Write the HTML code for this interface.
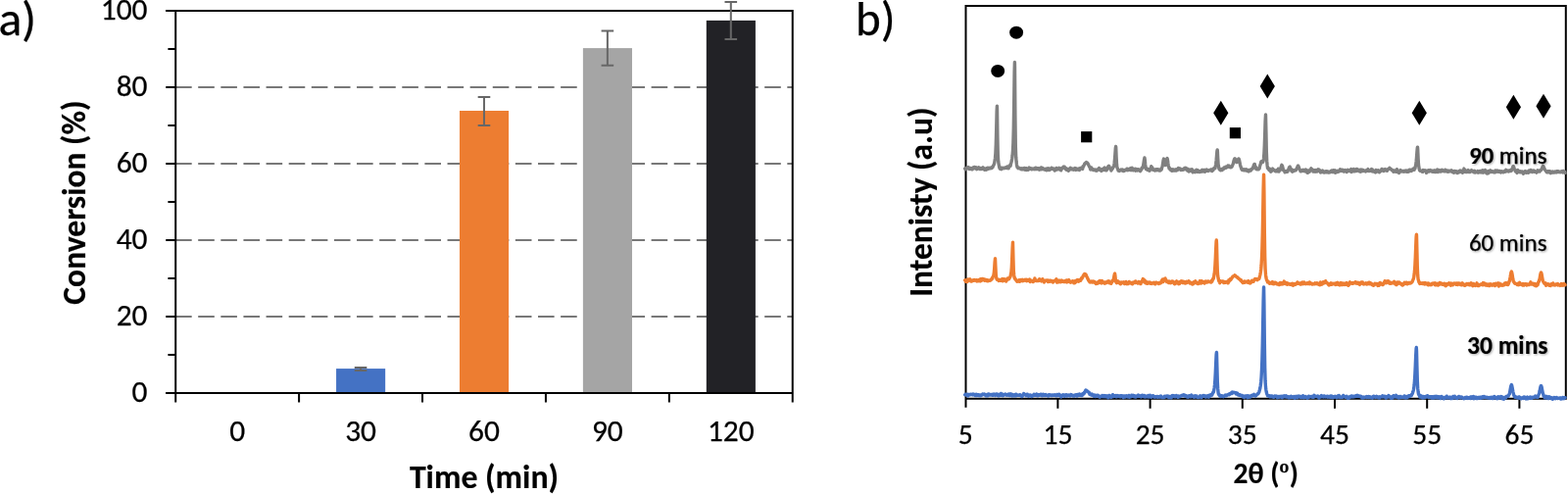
<!DOCTYPE html>
<html><head><meta charset="utf-8"><title>Figure</title>
<style>
html,body{margin:0;padding:0;background:#fff;width:1600px;height:504px;overflow:hidden}
svg{display:block}
text{font-family:Carlito,'Liberation Sans',sans-serif;fill:#000;stroke:#000;stroke-width:0.25px;font-size-adjust:0.4775390625}
.b{stroke-width:0.15px;font-size-adjust:0.48486328125}
.b{font-weight:bold}
</style></head><body>
<svg width="1600" height="504" viewBox="0 0 1600 504">
<rect width="1600" height="504" fill="#fff"/>

<line x1="179.08" y1="323.00" x2="808.75" y2="323.00" stroke="#787878" stroke-width="2.2" stroke-dasharray="16.6 6.52"/>
<line x1="179.08" y1="245.00" x2="808.75" y2="245.00" stroke="#787878" stroke-width="2.2" stroke-dasharray="16.6 6.52"/>
<line x1="179.08" y1="167.00" x2="808.75" y2="167.00" stroke="#787878" stroke-width="2.2" stroke-dasharray="16.6 6.52"/>
<line x1="179.08" y1="89.00" x2="808.75" y2="89.00" stroke="#787878" stroke-width="2.2" stroke-dasharray="16.6 6.52"/>
<rect x="343.06" y="376.10" width="50.1" height="24.90" fill="#4472C4"/>
<rect x="468.97" y="113.00" width="50.1" height="288.00" fill="#ED7D31"/>
<rect x="594.88" y="49.10" width="50.1" height="351.90" fill="#A5A5A5"/>
<rect x="720.80" y="20.90" width="50.1" height="380.10" fill="#222226"/>
<path d="M169 11.0 H809.65 M179.2 10.0 V410.6 M808.75 10.0 V410.6 M169 401.0 H809.65" stroke="#000" stroke-width="2" fill="none"/>
<path d="M169.2 323.00 H179.2 M169.2 245.00 H179.2 M169.2 167.00 H179.2 M169.2 89.00 H179.2 M171.4 362.00 H179.2 M171.4 284.00 H179.2 M171.4 206.00 H179.2 M171.4 128.00 H179.2 M171.4 50.00 H179.2 M305.11 401.0 V410.6 M431.02 401.0 V410.6 M556.93 401.0 V410.6 M682.84 401.0 V410.6" stroke="#000" stroke-width="2" fill="none"/>
<path d="M368.06 375.0 V378.0 M361.76 375.0 H374.37 M361.76 378.0 H374.37 M493.97 98.9 V128.0 M487.67 98.9 H500.27 M487.67 128.0 H500.27 M619.88 31.5 V66.8 M613.59 31.5 H626.18 M613.59 66.8 H626.18 M745.80 1.9 V40.0 M739.50 1.9 H752.10 M739.50 40.0 H752.10" stroke="#676767" stroke-width="2" fill="none"/>
<text x="150.5" y="410.10" font-size="31.4" text-anchor="end" textLength="15.92" lengthAdjust="spacingAndGlyphs">0</text>
<text x="150.5" y="332.10" font-size="31.4" text-anchor="end" textLength="31.83" lengthAdjust="spacingAndGlyphs">20</text>
<text x="150.5" y="254.10" font-size="31.4" text-anchor="end" textLength="31.83" lengthAdjust="spacingAndGlyphs">40</text>
<text x="150.5" y="176.10" font-size="31.4" text-anchor="end" textLength="31.83" lengthAdjust="spacingAndGlyphs">60</text>
<text x="150.5" y="98.10" font-size="31.4" text-anchor="end" textLength="31.83" lengthAdjust="spacingAndGlyphs">80</text>
<text x="150.5" y="20.10" font-size="31.4" text-anchor="end" textLength="47.73" lengthAdjust="spacingAndGlyphs">100</text>
<text x="242.15" y="450.3" font-size="31.4" text-anchor="middle" textLength="15.92" lengthAdjust="spacingAndGlyphs">0</text>
<text x="368.06" y="450.3" font-size="31.4" text-anchor="middle" textLength="31.83" lengthAdjust="spacingAndGlyphs">30</text>
<text x="493.97" y="450.3" font-size="31.4" text-anchor="middle" textLength="31.83" lengthAdjust="spacingAndGlyphs">60</text>
<text x="619.88" y="450.3" font-size="31.4" text-anchor="middle" textLength="31.83" lengthAdjust="spacingAndGlyphs">90</text>
<text x="745.80" y="450.3" font-size="31.4" text-anchor="middle" textLength="47.73" lengthAdjust="spacingAndGlyphs">120</text>
<text class="b" x="493.98" y="498.3" font-size="33.8" text-anchor="middle" textLength="152.17" lengthAdjust="spacingAndGlyphs">Time (min)</text>
<text class="b" transform="translate(87 206.6) rotate(-90)" x="0" y="0" font-size="33.6" text-anchor="middle" textLength="208.28" lengthAdjust="spacingAndGlyphs">Conversion (%)</text>
<text x="-1.6" y="36.4" font-size="49.5" textLength="38.73" lengthAdjust="spacingAndGlyphs">a)</text>
<path d="M985.5 406.7 H1598.8 M985.5 5.0 V415.7 M1597.8 5.0 V407.7 M984.5 6.0 H1598.8" stroke="#000" stroke-width="2" fill="none"/>
<path d="M1079.40 406.7 V416.7 M1173.60 406.7 V416.7 M1267.80 406.7 V416.7 M1362.00 406.7 V416.7 M1456.20 406.7 V416.7 M1550.40 406.7 V416.7" stroke="#000" stroke-width="2" fill="none"/>
<path d="M984.7 172.02 985.1 172.81 985.5 172.55 985.9 171.52 986.3 171.29 986.7 171.14 987.1 171.51 987.5 171.24 987.9 171.80 988.3 170.55 988.7 172.50 989.1 171.89 989.5 172.37 989.9 171.67 990.3 171.50 990.7 172.38 991.1 172.62 991.5 172.15 991.9 172.03 992.3 172.73 992.7 171.27 993.1 170.85 993.5 171.68 993.9 171.64 994.3 170.46 994.7 171.60 995.1 171.87 995.5 171.31 995.9 170.71 996.3 172.22 996.7 172.71 997.1 171.57 997.5 171.51 997.9 172.00 998.3 171.72 998.7 170.78 999.1 171.95 999.5 172.36 999.9 171.80 1000.3 171.57 1000.7 172.50 1001.1 172.22 1001.5 172.52 1001.9 171.43 1002.3 171.65 1002.7 171.36 1003.1 170.79 1003.5 172.37 1003.9 172.26 1004.3 171.76 1004.7 173.30 1005.1 172.99 1005.5 172.75 1005.9 172.87 1006.3 173.17 1006.7 171.70 1007.1 172.87 1007.5 172.62 1007.9 171.33 1008.3 172.11 1008.7 171.45 1009.1 172.11 1009.5 171.45 1009.9 171.23 1010.3 171.80 1010.7 171.39 1011.1 171.74 1011.5 171.27 1011.9 171.47 1012.3 170.59 1012.7 170.84 1013.1 170.34 1013.5 169.07 1013.9 168.52 1014.3 167.67 1014.7 166.19 1015.1 163.69 1015.5 161.19 1015.9 156.33 1016.3 147.37 1016.7 132.51 1017.1 114.67 1017.4 108.11 1017.5 110.65 1017.9 140.81 1018.3 158.37 1018.7 164.82 1019.1 167.22 1019.5 169.52 1019.9 171.23 1020.3 172.19 1020.7 170.83 1021.1 171.40 1021.5 171.99 1021.9 172.59 1022.3 172.01 1022.7 171.17 1023.1 171.78 1023.5 171.89 1023.9 171.68 1024.3 171.28 1024.7 171.53 1025.1 171.62 1025.5 171.30 1025.9 171.24 1026.3 170.69 1026.7 171.00 1027.1 171.50 1027.5 170.93 1027.9 169.99 1028.3 171.42 1028.7 170.95 1029.1 171.72 1029.5 170.13 1029.9 169.66 1030.3 168.84 1030.7 169.59 1031.1 169.19 1031.5 166.97 1031.9 165.74 1032.3 164.15 1032.7 161.71 1033.1 158.55 1033.5 153.78 1033.9 145.56 1034.3 130.50 1034.7 105.18 1035.1 74.63 1035.4 63.57 1035.5 67.81 1035.9 118.82 1036.3 149.11 1036.7 160.19 1037.1 165.08 1037.5 168.08 1037.9 170.05 1038.3 170.99 1038.7 171.02 1039.1 171.77 1039.5 171.63 1039.9 171.31 1040.3 171.49 1040.7 171.99 1041.1 171.66 1041.5 172.03 1041.9 172.55 1042.3 172.83 1042.7 172.73 1043.1 171.71 1043.5 172.71 1043.9 172.33 1044.3 172.73 1044.7 172.29 1045.1 171.48 1045.5 171.50 1045.9 173.20 1046.3 172.63 1046.7 173.18 1047.1 173.48 1047.5 171.60 1047.9 172.63 1048.3 173.26 1048.7 173.12 1049.1 173.23 1049.5 172.98 1049.9 172.59 1050.3 171.06 1050.7 171.92 1051.1 171.51 1051.5 172.31 1051.9 171.75 1052.3 172.39 1052.7 172.77 1053.1 172.30 1053.5 172.17 1053.9 172.50 1054.3 172.07 1054.7 172.38 1055.1 172.12 1055.5 172.68 1055.9 172.35 1056.3 172.55 1056.7 171.15 1057.1 172.66 1057.5 171.72 1057.9 171.49 1058.3 171.98 1058.7 171.71 1059.1 172.60 1059.5 171.71 1059.9 171.91 1060.3 171.75 1060.7 173.19 1061.1 172.12 1061.5 171.69 1061.9 172.06 1062.3 171.09 1062.7 172.73 1063.1 171.03 1063.5 172.20 1063.9 172.22 1064.3 171.58 1064.7 172.78 1065.1 172.81 1065.5 172.23 1065.9 172.50 1066.3 173.12 1066.7 172.61 1067.1 172.91 1067.5 173.06 1067.9 173.70 1068.3 171.93 1068.7 173.18 1069.1 172.48 1069.5 171.66 1069.9 172.21 1070.3 173.51 1070.7 173.18 1071.1 172.07 1071.5 173.16 1071.9 172.29 1072.3 172.57 1072.7 172.59 1073.1 171.20 1073.5 172.35 1073.9 172.06 1074.3 172.36 1074.7 172.03 1075.1 171.96 1075.5 172.51 1075.9 173.57 1076.3 174.01 1076.7 172.67 1077.1 173.48 1077.5 172.76 1077.9 171.43 1078.3 172.34 1078.7 172.92 1079.1 172.50 1079.5 172.87 1079.9 172.77 1080.3 171.99 1080.7 171.38 1081.1 172.18 1081.5 172.14 1081.9 172.56 1082.3 173.47 1082.7 173.73 1083.1 171.75 1083.5 172.16 1083.9 171.66 1084.3 171.17 1084.7 170.99 1085.1 170.19 1085.5 170.12 1085.8 170.45 1085.9 170.31 1086.3 170.28 1086.7 171.45 1087.1 172.50 1087.5 172.47 1087.9 171.89 1088.3 173.24 1088.7 172.03 1089.1 173.36 1089.5 173.50 1089.9 172.95 1090.3 174.26 1090.7 173.38 1091.1 172.28 1091.5 172.94 1091.9 172.07 1092.3 171.20 1092.7 172.13 1093.1 172.71 1093.5 172.80 1093.9 172.56 1094.3 172.82 1094.7 172.60 1095.1 172.06 1095.5 173.24 1095.9 172.38 1096.3 172.09 1096.7 172.59 1097.1 171.54 1097.5 171.79 1097.9 173.42 1098.3 172.58 1098.7 172.20 1099.1 172.99 1099.5 172.41 1099.9 172.83 1100.3 172.61 1100.7 173.06 1101.1 171.93 1101.5 173.60 1101.9 172.21 1102.3 171.48 1102.7 172.25 1103.1 171.94 1103.5 171.78 1103.9 171.04 1104.3 171.52 1104.7 172.36 1105.1 169.75 1105.5 170.02 1105.9 169.05 1106.3 168.44 1106.7 167.18 1107.1 166.74 1107.5 166.44 1107.9 165.92 1108.3 165.93 1108.5 165.57 1108.7 165.70 1109.1 166.39 1109.5 166.13 1109.9 166.57 1110.3 167.40 1110.7 168.07 1111.1 168.98 1111.5 169.83 1111.9 170.33 1112.3 171.25 1112.7 172.93 1113.1 172.95 1113.5 170.90 1113.9 172.06 1114.3 171.91 1114.7 172.78 1115.1 172.62 1115.5 173.52 1115.9 173.64 1116.3 173.64 1116.7 173.46 1117.1 172.93 1117.5 173.56 1117.9 174.07 1118.3 173.70 1118.7 173.23 1119.1 174.24 1119.5 173.52 1119.9 173.13 1120.3 172.62 1120.7 172.54 1121.1 172.79 1121.5 171.39 1121.9 173.36 1122.3 173.20 1122.7 173.09 1123.1 173.78 1123.5 173.90 1123.9 174.41 1124.3 172.61 1124.7 173.64 1125.1 173.39 1125.5 173.66 1125.9 173.67 1126.3 173.27 1126.7 171.34 1127.1 170.98 1127.5 172.73 1127.9 172.50 1128.3 173.77 1128.7 173.72 1129.1 173.75 1129.5 172.12 1129.9 172.57 1130.3 171.17 1130.7 170.17 1131.1 169.46 1131.4 169.19 1131.5 169.35 1131.9 169.69 1132.3 171.23 1132.7 172.16 1133.1 172.20 1133.5 172.49 1133.9 174.10 1134.3 172.73 1134.7 172.71 1135.1 172.13 1135.5 171.39 1135.9 170.45 1136.3 170.20 1136.7 168.88 1137.1 166.50 1137.5 162.41 1137.9 157.03 1138.3 151.29 1138.6 149.54 1138.7 150.01 1139.1 160.05 1139.5 167.29 1139.9 170.88 1140.3 171.60 1140.7 172.72 1141.1 174.11 1141.5 173.90 1141.9 174.02 1142.3 174.41 1142.7 173.80 1143.1 174.00 1143.5 173.63 1143.9 173.16 1144.3 173.55 1144.7 173.32 1145.1 173.99 1145.5 173.08 1145.9 173.25 1146.3 174.54 1146.7 173.93 1147.1 174.32 1147.5 174.26 1147.9 173.49 1148.3 173.41 1148.7 173.65 1149.1 173.62 1149.5 173.11 1149.9 172.17 1150.3 173.07 1150.7 172.28 1151.1 173.71 1151.5 172.97 1151.9 172.80 1152.3 173.32 1152.7 173.29 1153.1 172.09 1153.5 173.37 1153.9 173.62 1154.3 171.37 1154.7 172.55 1155.0 171.30 1155.1 171.25 1155.5 171.92 1155.9 171.91 1156.3 173.92 1156.7 173.89 1157.1 173.49 1157.5 173.45 1157.9 172.55 1158.3 173.26 1158.7 174.22 1159.1 172.31 1159.5 173.05 1159.9 173.69 1160.3 174.02 1160.7 173.77 1161.1 172.69 1161.5 172.78 1161.9 173.35 1162.3 172.94 1162.7 173.43 1163.1 174.41 1163.5 174.72 1163.9 173.73 1164.3 173.22 1164.7 173.21 1165.1 171.51 1165.5 171.82 1165.9 170.61 1166.3 170.81 1166.7 168.40 1167.1 165.83 1167.5 163.03 1167.9 161.00 1168.0 161.14 1168.3 163.41 1168.7 167.98 1169.1 171.56 1169.5 172.59 1169.9 171.62 1170.3 172.77 1170.7 173.16 1171.1 172.38 1171.5 172.91 1171.9 173.66 1172.3 172.65 1172.7 173.84 1173.1 174.18 1173.5 172.42 1173.9 172.78 1174.3 171.50 1174.7 169.77 1175.0 170.28 1175.1 170.01 1175.5 171.26 1175.9 171.18 1176.3 173.27 1176.7 172.68 1177.1 173.30 1177.5 172.89 1177.9 173.28 1178.3 173.98 1178.7 173.54 1179.1 173.41 1179.5 172.75 1179.9 173.83 1180.3 173.70 1180.7 172.96 1181.1 173.23 1181.5 172.71 1181.9 173.00 1182.3 173.45 1182.7 174.01 1183.1 173.83 1183.5 173.05 1183.9 174.02 1184.3 173.37 1184.7 172.81 1185.1 173.18 1185.5 171.63 1185.9 170.26 1186.3 168.63 1186.7 165.95 1187.1 163.37 1187.5 162.03 1187.5 162.19 1187.9 163.05 1188.3 165.35 1188.7 167.16 1189.1 168.56 1189.5 168.39 1189.9 166.91 1190.3 164.49 1190.7 162.14 1191.0 161.59 1191.1 161.75 1191.5 163.48 1191.9 166.44 1192.3 168.80 1192.7 170.57 1193.1 171.90 1193.5 171.58 1193.9 172.33 1194.3 172.57 1194.7 173.67 1195.1 173.55 1195.5 173.94 1195.9 174.32 1196.3 172.78 1196.7 173.25 1197.1 173.88 1197.5 172.93 1197.9 173.47 1198.3 174.06 1198.7 174.10 1199.1 174.04 1199.5 173.33 1199.9 172.92 1200.3 174.04 1200.7 173.04 1201.1 173.06 1201.5 173.53 1201.9 172.25 1202.3 171.50 1202.7 171.50 1203.0 171.84 1203.1 171.85 1203.5 172.12 1203.9 172.80 1204.3 171.98 1204.7 172.74 1205.1 173.55 1205.5 173.12 1205.9 173.26 1206.3 173.41 1206.7 173.38 1207.1 173.41 1207.5 172.33 1207.9 172.32 1208.3 172.72 1208.7 171.47 1209.0 172.02 1209.1 171.67 1209.5 171.23 1209.9 171.83 1210.3 171.60 1210.7 173.00 1211.1 172.17 1211.5 173.90 1211.9 173.75 1212.3 172.41 1212.7 174.48 1213.1 175.06 1213.5 173.73 1213.9 174.39 1214.3 173.25 1214.7 174.11 1215.1 172.90 1215.5 174.20 1215.9 173.46 1216.3 172.79 1216.7 174.35 1217.1 175.80 1217.5 174.12 1217.9 174.69 1218.3 174.78 1218.7 174.73 1219.1 175.01 1219.5 175.63 1219.9 173.88 1220.3 174.56 1220.7 174.43 1221.1 173.29 1221.5 174.99 1221.9 175.32 1222.3 173.63 1222.7 175.30 1223.1 174.58 1223.5 174.54 1223.9 175.56 1224.3 174.66 1224.7 174.56 1225.1 175.31 1225.5 174.74 1225.9 174.48 1226.3 173.79 1226.7 173.38 1227.1 175.05 1227.5 173.88 1227.9 174.50 1228.3 173.48 1228.7 174.62 1229.1 173.52 1229.5 175.30 1229.9 173.39 1230.3 173.74 1230.7 173.33 1231.1 174.31 1231.5 173.05 1231.9 174.19 1232.3 174.04 1232.7 174.55 1233.1 174.20 1233.5 173.86 1233.9 173.66 1234.3 173.41 1234.7 173.73 1235.1 173.63 1235.5 172.91 1235.9 173.65 1236.3 173.57 1236.7 174.61 1237.1 172.79 1237.5 173.32 1237.9 173.70 1238.3 171.82 1238.7 171.70 1239.1 171.61 1239.5 171.45 1239.9 171.74 1240.3 169.32 1240.7 167.24 1241.1 163.68 1241.5 158.87 1241.9 154.18 1242.2 152.93 1242.3 153.40 1242.7 161.21 1243.1 167.65 1243.5 169.54 1243.9 171.89 1244.3 172.97 1244.7 172.63 1245.1 172.66 1245.5 173.80 1245.9 172.83 1246.3 173.59 1246.7 172.50 1247.1 173.56 1247.5 172.96 1247.9 172.39 1248.3 171.84 1248.7 172.24 1249.1 170.95 1249.5 171.39 1249.9 170.95 1250.3 171.38 1250.7 170.20 1251.1 171.17 1251.5 170.35 1251.9 169.93 1252.3 170.53 1252.7 170.14 1253.0 169.46 1253.1 169.04 1253.5 169.22 1253.9 168.99 1254.3 169.57 1254.7 170.48 1255.1 170.46 1255.5 170.72 1255.9 170.87 1256.3 170.65 1256.7 170.51 1257.1 169.98 1257.5 168.86 1257.9 168.04 1258.3 167.12 1258.7 165.34 1259.1 163.72 1259.5 162.57 1259.9 161.82 1260.0 161.73 1260.3 162.07 1260.7 162.87 1261.1 164.03 1261.5 165.09 1261.9 165.61 1262.3 165.47 1262.7 164.76 1263.1 163.60 1263.5 162.48 1263.9 161.83 1264.0 161.83 1264.3 162.53 1264.7 163.96 1265.1 166.14 1265.5 168.14 1265.9 169.69 1266.3 170.53 1266.7 172.17 1267.1 172.72 1267.5 173.40 1267.9 172.76 1268.3 173.22 1268.7 173.33 1269.1 172.68 1269.5 173.83 1269.9 173.22 1270.3 173.00 1270.7 173.08 1271.1 173.89 1271.5 174.09 1271.9 172.85 1272.3 173.97 1272.7 173.78 1273.1 174.43 1273.5 174.24 1273.9 173.50 1274.3 174.94 1274.7 174.22 1275.1 173.89 1275.5 173.22 1275.9 173.44 1276.3 174.01 1276.7 173.42 1277.1 172.67 1277.5 172.26 1277.9 172.00 1278.3 171.99 1278.7 170.54 1279.1 169.48 1279.5 168.35 1279.9 167.62 1280.0 167.70 1280.3 167.61 1280.7 169.59 1281.1 169.95 1281.5 170.81 1281.9 172.56 1282.3 172.46 1282.7 172.68 1283.1 172.21 1283.5 172.16 1283.9 172.80 1284.3 172.81 1284.7 171.46 1285.1 171.85 1285.5 169.70 1285.9 168.46 1286.3 167.17 1286.7 165.45 1287.0 164.85 1287.1 164.67 1287.5 164.81 1287.9 165.28 1288.3 165.60 1288.7 165.28 1289.1 164.00 1289.5 161.45 1289.9 156.53 1290.3 148.37 1290.7 136.95 1291.1 123.59 1291.5 116.97 1291.5 117.16 1291.9 134.34 1292.3 154.34 1292.7 164.18 1293.1 168.46 1293.5 171.44 1293.9 171.96 1294.3 172.17 1294.7 172.88 1295.1 173.55 1295.5 172.04 1295.9 173.02 1296.3 172.99 1296.7 175.31 1297.1 174.95 1297.5 174.42 1297.9 173.35 1298.3 173.70 1298.7 172.04 1299.1 173.71 1299.5 173.03 1299.9 173.37 1300.3 173.60 1300.7 173.91 1301.1 174.43 1301.5 174.77 1301.9 174.29 1302.3 173.90 1302.7 174.66 1303.1 174.22 1303.5 174.74 1303.9 173.43 1304.3 172.19 1304.7 173.62 1305.1 175.09 1305.5 173.72 1305.9 173.38 1306.3 173.48 1306.7 172.65 1307.1 171.29 1307.5 169.35 1307.9 168.28 1308.0 168.45 1308.3 168.64 1308.7 169.90 1309.1 171.96 1309.5 173.65 1309.9 173.95 1310.3 174.24 1310.7 174.18 1311.1 175.78 1311.5 174.59 1311.9 174.74 1312.3 175.36 1312.7 174.39 1313.1 174.41 1313.5 174.64 1313.9 175.12 1314.3 173.61 1314.7 173.27 1315.1 172.06 1315.5 170.80 1315.9 170.85 1316.0 170.49 1316.3 170.16 1316.7 171.82 1317.1 171.99 1317.5 173.18 1317.9 174.39 1318.3 174.22 1318.7 175.14 1319.1 173.35 1319.5 174.46 1319.9 174.34 1320.3 174.58 1320.7 174.01 1321.1 173.82 1321.5 173.70 1321.9 173.27 1322.3 173.74 1322.7 172.63 1323.1 172.48 1323.5 171.25 1323.9 170.30 1324.3 169.36 1324.5 169.99 1324.7 169.21 1325.1 170.07 1325.5 171.19 1325.9 172.32 1326.3 172.90 1326.7 173.82 1327.1 174.82 1327.5 173.76 1327.9 174.70 1328.3 173.94 1328.7 174.49 1329.1 173.53 1329.5 173.20 1329.9 173.34 1330.3 174.53 1330.7 174.00 1331.1 173.95 1331.5 174.78 1331.9 173.63 1332.3 172.97 1332.7 174.06 1333.1 174.08 1333.5 175.54 1333.9 176.17 1334.3 173.91 1334.7 176.33 1335.1 175.53 1335.5 174.88 1335.9 174.32 1336.3 175.26 1336.7 173.35 1337.1 173.02 1337.5 172.80 1337.9 171.79 1338.3 172.42 1338.5 172.41 1338.7 172.89 1339.1 173.41 1339.5 173.38 1339.9 175.06 1340.3 173.78 1340.7 174.92 1341.1 173.54 1341.5 174.79 1341.9 173.88 1342.3 175.15 1342.7 174.41 1343.1 173.52 1343.5 174.20 1343.9 175.00 1344.3 174.73 1344.7 173.35 1345.1 172.69 1345.5 172.89 1345.9 173.57 1346.3 173.49 1346.7 173.72 1347.1 175.24 1347.5 175.96 1347.9 175.81 1348.3 174.72 1348.7 175.34 1349.1 174.85 1349.5 174.11 1349.9 175.54 1350.3 175.05 1350.7 174.73 1351.1 176.06 1351.5 175.35 1351.9 175.42 1352.3 175.69 1352.7 175.72 1353.1 174.66 1353.5 174.99 1353.9 175.74 1354.3 174.83 1354.7 174.97 1355.1 175.12 1355.5 176.06 1355.9 176.11 1356.3 175.70 1356.7 175.18 1357.1 175.77 1357.5 175.18 1357.9 174.46 1358.3 175.17 1358.7 174.90 1359.1 174.09 1359.5 175.64 1359.9 174.93 1360.3 175.52 1360.7 173.76 1361.1 174.75 1361.5 174.04 1361.9 174.28 1362.3 173.84 1362.7 176.41 1363.1 174.82 1363.5 175.09 1363.9 175.30 1364.3 174.80 1364.7 175.60 1365.1 174.28 1365.5 175.26 1365.9 175.01 1366.3 175.08 1366.7 174.30 1367.1 173.48 1367.5 172.67 1367.9 173.14 1368.3 174.34 1368.7 174.24 1369.1 174.32 1369.5 173.36 1369.9 173.27 1370.3 174.53 1370.7 174.87 1371.1 174.57 1371.5 175.15 1371.9 174.32 1372.3 173.63 1372.7 173.46 1373.1 174.00 1373.5 173.96 1373.9 174.06 1374.3 175.57 1374.7 174.08 1375.1 174.51 1375.5 173.25 1375.9 173.66 1376.3 174.07 1376.7 174.26 1377.1 173.98 1377.5 174.70 1377.9 174.48 1378.3 173.23 1378.7 172.43 1379.1 175.46 1379.5 174.70 1379.9 174.25 1380.3 173.20 1380.7 173.26 1381.1 174.85 1381.5 172.37 1381.9 174.10 1382.3 174.83 1382.7 174.13 1383.1 174.44 1383.5 173.55 1383.9 174.43 1384.3 172.50 1384.7 172.51 1385.1 173.49 1385.5 174.13 1385.9 173.38 1386.3 173.90 1386.7 173.35 1387.1 173.30 1387.5 175.04 1387.9 175.04 1388.3 175.18 1388.7 173.94 1389.1 172.99 1389.5 173.14 1389.9 174.13 1390.3 174.59 1390.7 174.45 1391.1 173.61 1391.5 174.37 1391.9 174.10 1392.3 174.21 1392.7 174.14 1393.1 174.17 1393.5 175.03 1393.9 174.21 1394.3 174.31 1394.7 173.62 1395.1 174.17 1395.5 173.57 1395.9 172.58 1396.3 174.23 1396.7 173.90 1397.1 174.53 1397.5 173.96 1397.9 174.18 1398.3 174.18 1398.7 173.60 1399.1 173.23 1399.5 172.44 1399.9 174.74 1400.3 172.96 1400.7 173.97 1401.1 175.10 1401.5 174.99 1401.9 175.05 1402.3 174.79 1402.7 175.13 1403.1 174.44 1403.5 175.89 1403.9 173.44 1404.3 174.44 1404.7 174.48 1405.1 173.77 1405.5 174.20 1405.9 174.84 1406.3 173.68 1406.7 173.79 1407.0 174.86 1407.1 174.86 1407.5 175.84 1407.9 175.24 1408.3 174.33 1408.7 174.23 1409.1 174.41 1409.5 173.58 1409.9 172.46 1410.3 173.40 1410.7 173.31 1411.1 173.00 1411.5 173.07 1411.9 174.58 1412.3 173.32 1412.7 173.41 1413.1 173.11 1413.5 172.61 1413.9 173.14 1414.3 173.95 1414.7 173.64 1415.1 173.42 1415.5 174.29 1415.9 173.52 1416.3 172.71 1416.7 172.45 1417.1 171.98 1417.5 171.94 1417.9 171.27 1418.0 171.58 1418.3 172.25 1418.7 172.15 1419.1 172.22 1419.5 172.54 1419.9 173.38 1420.3 173.56 1420.7 173.91 1421.1 173.88 1421.5 173.82 1421.9 175.31 1422.3 174.59 1422.7 175.06 1423.1 174.59 1423.5 174.02 1423.9 174.53 1424.3 175.26 1424.7 175.28 1425.1 174.87 1425.5 172.66 1425.9 174.49 1426.3 174.56 1426.7 175.84 1427.1 175.65 1427.5 176.46 1427.9 175.64 1428.3 175.65 1428.7 175.20 1429.1 173.53 1429.5 174.91 1429.9 174.73 1430.3 174.35 1430.7 174.72 1431.1 174.94 1431.5 174.52 1431.9 174.76 1432.3 174.58 1432.7 175.08 1433.1 174.31 1433.5 174.90 1433.9 174.23 1434.3 175.01 1434.7 174.12 1435.1 174.79 1435.5 175.32 1435.9 174.24 1436.3 174.35 1436.7 174.32 1437.1 175.22 1437.5 173.76 1437.9 174.98 1438.3 173.22 1438.7 173.83 1439.1 174.21 1439.5 173.45 1439.9 174.04 1440.3 174.40 1440.7 173.34 1441.1 173.80 1441.5 173.59 1441.9 172.23 1442.3 173.26 1442.7 172.53 1443.1 173.28 1443.5 171.41 1443.9 171.97 1444.3 169.69 1444.7 168.30 1445.1 164.97 1445.5 160.60 1445.9 155.20 1446.3 150.77 1446.5 150.12 1446.7 152.24 1447.1 161.58 1447.5 167.99 1447.9 170.43 1448.3 172.84 1448.7 174.08 1449.1 174.28 1449.5 174.37 1449.9 174.23 1450.3 174.16 1450.7 174.61 1451.1 175.12 1451.5 174.13 1451.9 175.28 1452.3 173.59 1452.7 174.30 1453.1 173.99 1453.5 173.99 1453.9 173.74 1454.3 174.18 1454.7 174.69 1455.1 174.15 1455.5 176.43 1455.9 174.98 1456.3 174.50 1456.7 174.78 1457.1 174.68 1457.5 173.64 1457.9 174.94 1458.3 175.11 1458.7 173.97 1459.1 174.40 1459.5 173.51 1459.9 173.87 1460.3 174.53 1460.7 174.50 1461.1 174.85 1461.5 174.17 1461.9 175.30 1462.3 174.21 1462.7 174.62 1463.1 174.94 1463.5 174.20 1463.9 173.78 1464.3 175.49 1464.7 174.46 1465.1 174.44 1465.5 174.33 1465.9 175.37 1466.3 173.92 1466.7 172.95 1467.1 174.64 1467.5 175.38 1467.9 174.97 1468.3 173.58 1468.7 173.79 1469.1 174.32 1469.5 174.83 1469.9 174.34 1470.3 173.81 1470.7 174.99 1471.1 174.27 1471.5 173.30 1471.9 174.18 1472.3 174.25 1472.7 174.29 1473.1 174.76 1473.5 174.77 1473.9 174.77 1474.3 174.54 1474.7 173.20 1475.1 174.48 1475.5 174.79 1475.9 174.87 1476.3 173.89 1476.7 174.15 1477.1 175.17 1477.5 175.34 1477.9 174.54 1478.3 174.94 1478.7 174.15 1479.1 174.86 1479.5 174.41 1479.9 174.74 1480.3 174.83 1480.7 174.48 1481.1 173.77 1481.5 174.29 1481.9 175.41 1482.3 175.31 1482.7 175.10 1483.1 176.09 1483.5 176.22 1483.9 176.00 1484.3 174.47 1484.7 175.59 1485.1 175.15 1485.5 174.74 1485.9 174.69 1486.3 176.05 1486.7 175.16 1487.1 176.57 1487.5 175.22 1487.9 175.17 1488.3 174.81 1488.7 175.92 1489.1 174.47 1489.5 174.61 1489.9 173.93 1490.3 174.56 1490.7 174.91 1491.1 175.49 1491.5 174.34 1491.9 175.53 1492.3 176.26 1492.7 174.56 1493.1 174.77 1493.5 173.72 1493.9 172.09 1494.3 173.92 1494.7 175.27 1495.1 174.15 1495.5 173.91 1495.9 175.60 1496.3 175.38 1496.7 175.58 1497.1 175.45 1497.5 174.63 1497.9 175.05 1498.3 173.59 1498.7 175.41 1499.1 175.18 1499.5 175.65 1499.9 175.59 1500.3 174.60 1500.7 174.56 1501.1 174.22 1501.5 173.65 1501.9 174.63 1502.3 174.94 1502.7 174.20 1503.1 175.16 1503.5 175.02 1503.9 175.64 1504.3 174.69 1504.7 174.26 1505.1 176.03 1505.5 175.73 1505.9 175.34 1506.3 175.67 1506.7 175.51 1507.1 175.48 1507.5 175.45 1507.9 174.47 1508.3 176.18 1508.7 175.18 1509.1 175.65 1509.5 175.64 1509.9 175.75 1510.3 174.39 1510.7 175.60 1511.1 175.60 1511.5 175.44 1511.9 175.92 1512.3 174.64 1512.7 173.66 1513.1 175.42 1513.5 176.13 1513.9 175.62 1514.3 174.43 1514.7 174.91 1515.1 174.92 1515.5 173.45 1515.9 174.87 1516.3 175.23 1516.7 176.64 1517.1 175.50 1517.5 177.09 1517.9 175.89 1518.3 174.76 1518.7 176.77 1519.1 174.58 1519.5 175.33 1519.9 175.54 1520.3 174.40 1520.7 173.92 1521.1 175.53 1521.5 175.15 1521.9 174.67 1522.3 174.55 1522.7 174.92 1523.1 175.47 1523.5 175.01 1523.9 175.43 1524.3 175.83 1524.7 175.57 1525.1 175.86 1525.5 175.40 1525.9 173.99 1526.3 175.57 1526.7 175.24 1527.1 174.95 1527.5 174.60 1527.9 173.92 1528.3 174.43 1528.7 175.16 1529.1 174.34 1529.5 174.34 1529.9 174.73 1530.3 175.32 1530.7 174.56 1531.1 175.11 1531.5 176.01 1531.9 174.92 1532.3 175.58 1532.7 174.72 1533.1 175.60 1533.5 175.57 1533.9 175.83 1534.3 175.78 1534.7 175.06 1535.1 174.97 1535.5 174.27 1535.9 175.18 1536.3 174.35 1536.7 173.38 1537.1 174.88 1537.5 174.38 1537.9 174.63 1538.3 174.44 1538.7 173.99 1539.1 174.99 1539.5 174.95 1539.9 174.18 1540.3 173.81 1540.7 174.38 1541.1 174.35 1541.5 174.50 1541.9 174.46 1542.3 174.15 1542.7 172.54 1543.1 172.06 1543.5 171.01 1543.9 169.82 1544.2 169.44 1544.3 170.01 1544.7 170.47 1545.1 171.96 1545.5 172.74 1545.9 173.42 1546.3 174.81 1546.7 174.09 1547.1 175.41 1547.5 175.46 1547.9 176.37 1548.3 175.46 1548.7 173.37 1549.1 175.56 1549.5 174.15 1549.9 175.34 1550.3 175.14 1550.7 175.69 1551.1 175.79 1551.5 175.54 1551.9 174.85 1552.3 175.76 1552.7 175.07 1553.1 175.02 1553.5 175.49 1553.9 175.29 1554.3 177.24 1554.7 176.35 1555.1 176.39 1555.5 176.07 1555.9 175.09 1556.3 174.62 1556.7 175.26 1557.1 175.35 1557.5 176.19 1557.9 175.88 1558.3 174.96 1558.7 175.86 1559.1 176.16 1559.5 176.30 1559.9 175.21 1560.3 174.00 1560.7 175.37 1561.1 174.16 1561.5 174.73 1561.9 173.49 1562.3 175.04 1562.7 174.15 1563.1 175.28 1563.5 175.53 1563.9 175.26 1564.3 174.11 1564.7 174.29 1565.1 174.09 1565.5 175.24 1565.9 175.15 1566.3 175.11 1566.7 174.91 1567.1 175.45 1567.5 175.46 1567.9 176.10 1568.3 175.04 1568.7 175.31 1569.1 173.80 1569.5 174.15 1569.9 174.58 1570.3 174.02 1570.7 174.67 1571.1 175.05 1571.5 174.13 1571.9 173.91 1572.3 173.49 1572.7 173.38 1573.1 172.34 1573.5 171.70 1573.9 170.46 1574.3 169.78 1574.6 169.75 1574.7 169.61 1575.1 170.12 1575.5 171.53 1575.9 171.87 1576.3 172.99 1576.7 173.50 1577.1 173.98 1577.5 174.56 1577.9 174.97 1578.3 175.67 1578.7 175.17 1579.1 174.83 1579.5 175.82 1579.9 174.68 1580.3 175.53 1580.7 175.18 1581.1 175.76 1581.5 174.65 1581.9 175.19 1582.3 176.65 1582.7 175.50 1583.1 175.79 1583.5 175.51 1583.9 175.85 1584.3 175.00 1584.7 175.39 1585.1 176.01 1585.5 176.12 1585.9 175.36 1586.3 175.24 1586.7 175.10 1587.1 175.68 1587.5 175.21 1587.9 175.19 1588.3 175.87 1588.7 174.74 1589.1 174.67 1589.5 174.71 1589.9 174.64 1590.3 175.51 1590.7 175.33 1591.1 175.53 1591.5 175.23 1591.9 175.33 1592.3 175.70 1592.7 175.12 1593.1 174.87 1593.5 175.34 1593.9 174.76 1594.3 174.96 1594.7 175.88 1595.1 174.45 1595.5 175.22 1595.9 175.46 1596.3 175.60 1596.7 175.24 1597.1 176.45" stroke="#808080" stroke-width="3.4" fill="none" stroke-linejoin="round" stroke-linecap="round"/>
<path d="M984.7 285.96 985.1 285.71 985.5 287.22 985.9 286.91 986.3 287.36 986.7 287.56 987.1 287.17 987.5 286.85 987.9 284.89 988.3 285.22 988.7 285.78 989.1 285.18 989.5 285.44 989.9 284.86 990.3 286.15 990.7 286.94 991.1 286.59 991.5 287.06 991.9 286.62 992.3 286.50 992.7 286.20 993.1 285.74 993.5 286.39 993.9 286.28 994.3 285.46 994.7 286.11 995.1 286.05 995.5 286.05 995.9 285.85 996.3 286.51 996.7 286.83 997.1 285.75 997.5 286.44 997.9 286.49 998.3 286.64 998.7 285.74 999.1 285.56 999.5 285.69 999.9 285.03 1000.3 286.95 1000.7 284.69 1001.1 285.01 1001.5 286.34 1001.9 285.93 1002.3 284.51 1002.7 285.60 1003.1 285.15 1003.5 285.48 1003.9 284.66 1004.3 285.48 1004.7 286.30 1005.1 286.06 1005.5 285.35 1005.9 285.55 1006.3 285.52 1006.7 286.46 1007.1 286.38 1007.5 285.88 1007.9 286.82 1008.3 286.03 1008.7 286.32 1009.1 286.02 1009.5 286.33 1009.9 286.12 1010.3 286.26 1010.7 286.10 1011.1 285.53 1011.5 285.02 1011.9 285.11 1012.3 283.75 1012.7 284.26 1013.1 282.64 1013.5 281.79 1013.9 280.73 1014.3 278.32 1014.7 273.78 1015.1 267.37 1015.5 263.68 1015.5 263.65 1015.9 272.48 1016.3 280.59 1016.7 283.53 1017.1 284.74 1017.5 285.36 1017.9 285.49 1018.3 285.11 1018.7 285.13 1019.1 286.39 1019.5 286.02 1019.9 285.60 1020.3 286.20 1020.7 285.62 1021.1 286.40 1021.5 286.29 1021.9 285.51 1022.3 285.18 1022.7 284.46 1023.1 286.81 1023.5 286.21 1023.9 285.35 1024.3 286.22 1024.7 284.61 1025.1 285.03 1025.5 285.33 1025.9 285.29 1026.3 285.30 1026.7 287.02 1027.1 285.41 1027.5 285.64 1027.9 285.12 1028.3 283.89 1028.7 284.52 1029.1 284.73 1029.5 284.69 1029.9 283.84 1030.3 283.42 1030.7 282.60 1031.1 281.83 1031.5 279.68 1031.9 277.59 1032.3 272.82 1032.7 264.69 1033.1 253.52 1033.5 247.08 1033.5 247.18 1033.9 262.67 1034.3 276.04 1034.7 280.74 1035.1 283.21 1035.5 284.30 1035.9 284.26 1036.3 285.23 1036.7 285.38 1037.1 286.42 1037.5 286.35 1037.9 287.29 1038.3 286.50 1038.7 286.57 1039.1 286.29 1039.5 286.69 1039.9 285.73 1040.3 287.34 1040.7 286.32 1041.1 286.82 1041.5 285.61 1041.9 286.62 1042.3 286.54 1042.7 285.76 1043.1 285.35 1043.5 285.55 1043.9 286.75 1044.3 286.24 1044.7 286.13 1045.1 286.18 1045.5 285.61 1045.9 285.30 1046.3 285.68 1046.7 286.20 1047.1 286.14 1047.5 285.37 1047.9 286.69 1048.3 286.19 1048.7 286.16 1049.1 285.55 1049.5 286.33 1049.9 286.33 1050.3 286.12 1050.7 285.09 1051.1 287.60 1051.5 286.90 1051.9 286.08 1052.3 286.91 1052.7 286.85 1053.1 286.42 1053.5 286.50 1053.9 287.41 1054.3 287.59 1054.7 286.30 1055.1 286.16 1055.5 286.65 1055.9 283.88 1056.3 286.16 1056.7 286.09 1057.1 285.94 1057.5 285.89 1057.9 286.60 1058.3 286.59 1058.7 286.41 1059.1 286.31 1059.5 286.53 1059.9 285.75 1060.3 286.18 1060.7 284.76 1061.1 285.85 1061.5 285.97 1061.9 285.18 1062.3 285.86 1062.7 286.93 1063.1 286.47 1063.5 286.20 1063.9 284.73 1064.3 286.51 1064.7 286.51 1065.1 287.26 1065.5 288.09 1065.9 286.80 1066.3 286.93 1066.7 286.33 1067.1 286.40 1067.5 285.98 1067.9 286.42 1068.3 286.50 1068.7 285.92 1069.1 285.89 1069.5 287.56 1069.9 286.13 1070.3 287.08 1070.7 287.31 1071.1 286.49 1071.5 286.22 1071.9 287.00 1072.3 286.26 1072.7 286.40 1073.1 286.34 1073.5 287.18 1073.9 287.51 1074.3 288.06 1074.7 287.01 1075.1 287.39 1075.5 286.97 1075.9 286.71 1076.3 286.18 1076.7 286.56 1077.1 286.08 1077.5 285.60 1077.9 284.78 1078.3 285.56 1078.7 288.19 1079.1 287.23 1079.5 287.58 1079.9 287.26 1080.3 287.78 1080.7 286.12 1081.1 286.33 1081.5 286.15 1081.9 287.22 1082.3 287.72 1082.7 287.50 1083.1 286.78 1083.5 286.10 1083.9 287.20 1084.3 286.43 1084.7 286.89 1085.1 287.42 1085.5 287.65 1085.9 287.57 1086.3 287.52 1086.7 286.71 1087.1 287.43 1087.5 286.97 1087.9 287.58 1088.3 285.95 1088.7 287.95 1089.1 286.56 1089.5 286.40 1089.9 286.15 1090.3 286.16 1090.7 285.58 1091.1 287.51 1091.5 286.96 1091.9 287.81 1092.3 288.11 1092.7 287.64 1093.1 287.78 1093.5 287.38 1093.9 287.76 1094.3 286.77 1094.7 286.66 1095.1 287.20 1095.5 287.19 1095.9 288.70 1096.3 287.21 1096.7 288.70 1097.1 288.52 1097.5 286.46 1097.9 287.47 1098.3 287.12 1098.7 286.94 1099.1 285.67 1099.5 286.38 1099.9 285.52 1100.3 286.06 1100.7 287.16 1101.1 286.51 1101.5 285.68 1101.9 285.90 1102.3 285.27 1102.7 286.24 1103.1 284.89 1103.5 283.79 1103.9 284.37 1104.3 283.69 1104.7 282.81 1105.1 281.72 1105.5 281.47 1105.9 280.46 1106.3 279.68 1106.7 279.50 1107.0 279.41 1107.1 279.52 1107.5 279.86 1107.9 279.96 1108.3 280.59 1108.7 282.06 1109.1 282.58 1109.5 283.16 1109.9 284.47 1110.3 284.75 1110.7 286.03 1111.1 286.62 1111.5 286.61 1111.9 287.77 1112.3 287.41 1112.7 287.98 1113.1 287.64 1113.5 287.50 1113.9 286.96 1114.3 287.92 1114.7 288.06 1115.1 287.75 1115.5 287.23 1115.9 287.01 1116.3 287.47 1116.7 288.02 1117.1 288.43 1117.5 287.83 1117.9 288.65 1118.3 289.52 1118.7 288.40 1119.1 289.35 1119.5 288.54 1119.9 289.13 1120.3 287.89 1120.7 288.96 1121.1 287.25 1121.5 288.00 1121.9 287.36 1122.3 286.40 1122.7 286.57 1123.1 288.45 1123.5 288.41 1123.9 288.92 1124.3 288.15 1124.7 286.53 1125.1 288.58 1125.5 288.02 1125.9 288.40 1126.3 288.58 1126.7 288.26 1127.1 287.95 1127.5 289.21 1127.9 288.70 1128.3 287.96 1128.7 287.88 1129.1 288.48 1129.5 287.96 1129.9 287.61 1130.3 286.94 1130.7 287.43 1131.1 287.11 1131.5 286.77 1131.9 288.77 1132.3 288.00 1132.7 288.39 1133.1 287.95 1133.5 288.63 1133.9 289.29 1134.3 288.07 1134.7 287.79 1135.1 286.15 1135.5 286.74 1135.9 285.96 1136.3 285.24 1136.7 282.77 1137.1 280.63 1137.5 279.21 1137.6 279.12 1137.9 281.28 1138.3 285.35 1138.7 287.35 1139.1 288.11 1139.5 288.67 1139.9 287.55 1140.3 287.21 1140.7 286.74 1141.1 288.32 1141.5 287.76 1141.9 288.36 1142.3 288.07 1142.7 289.21 1143.1 288.18 1143.5 289.75 1143.9 288.47 1144.3 288.80 1144.7 288.03 1145.1 288.59 1145.5 288.38 1145.9 288.68 1146.3 288.13 1146.7 287.75 1147.1 289.15 1147.5 289.53 1147.9 289.10 1148.3 288.80 1148.7 288.97 1149.1 287.51 1149.5 288.65 1149.9 289.64 1150.3 289.32 1150.7 288.67 1151.1 289.59 1151.5 288.68 1151.9 289.07 1152.3 287.45 1152.7 287.94 1153.1 288.70 1153.5 288.79 1153.9 289.00 1154.3 288.58 1154.7 289.17 1155.1 289.37 1155.5 289.79 1155.9 288.18 1156.3 288.89 1156.7 288.57 1157.1 288.61 1157.5 288.64 1157.9 287.45 1158.3 288.56 1158.7 286.91 1159.1 287.72 1159.5 288.22 1159.9 288.41 1160.3 288.39 1160.7 288.75 1161.1 289.08 1161.5 288.87 1161.9 287.54 1162.3 287.53 1162.7 288.03 1163.1 288.20 1163.5 288.37 1163.9 289.63 1164.3 288.39 1164.7 287.44 1165.1 287.50 1165.5 286.95 1165.9 285.61 1166.3 284.50 1166.5 284.72 1166.7 284.93 1167.1 285.22 1167.5 286.58 1167.9 287.96 1168.3 286.23 1168.7 287.67 1169.1 287.67 1169.5 288.91 1169.9 288.67 1170.3 288.03 1170.7 289.37 1171.1 288.09 1171.5 289.03 1171.9 288.87 1172.3 288.06 1172.7 288.49 1173.1 288.50 1173.5 287.99 1173.9 289.16 1174.3 288.62 1174.7 289.07 1175.1 289.07 1175.5 289.41 1175.9 289.00 1176.3 288.55 1176.7 288.48 1177.1 288.60 1177.5 288.30 1177.9 288.67 1178.3 289.70 1178.7 288.78 1179.1 289.61 1179.5 288.12 1179.9 288.19 1180.3 288.50 1180.7 288.37 1181.1 288.68 1181.5 288.76 1181.9 288.83 1182.3 289.51 1182.7 289.44 1183.1 288.51 1183.5 288.60 1183.9 289.01 1184.3 288.85 1184.7 287.93 1185.1 288.22 1185.5 286.27 1185.9 286.36 1186.0 287.48 1186.3 285.00 1186.7 286.48 1187.1 287.36 1187.5 286.55 1187.9 285.81 1188.3 285.39 1188.7 284.11 1189.0 284.00 1189.1 284.67 1189.5 285.08 1189.9 285.87 1190.3 286.45 1190.7 287.61 1191.1 286.86 1191.5 287.50 1191.9 287.95 1192.3 288.38 1192.7 287.93 1193.1 286.98 1193.5 288.45 1193.9 288.37 1194.3 288.63 1194.7 287.58 1195.1 288.55 1195.5 287.73 1195.9 287.17 1196.3 288.10 1196.7 287.03 1197.1 287.76 1197.5 288.15 1197.9 287.83 1198.3 289.63 1198.7 289.73 1199.1 289.09 1199.5 289.00 1199.9 289.05 1200.3 287.61 1200.7 286.89 1201.1 287.38 1201.5 288.59 1201.9 288.85 1202.3 287.91 1202.7 289.69 1203.1 288.81 1203.5 289.54 1203.9 288.69 1204.3 287.42 1204.7 287.55 1205.1 286.95 1205.5 286.83 1205.9 287.78 1206.3 288.34 1206.7 288.54 1207.1 287.20 1207.5 288.24 1207.9 287.62 1208.3 287.48 1208.7 288.72 1209.1 288.14 1209.5 288.97 1209.9 287.99 1210.3 287.57 1210.7 288.76 1211.1 287.27 1211.5 287.62 1211.9 287.91 1212.3 288.05 1212.7 287.62 1213.1 286.69 1213.5 287.32 1213.9 288.60 1214.3 288.97 1214.7 287.98 1215.1 289.01 1215.5 288.98 1215.9 289.35 1216.3 288.50 1216.7 290.07 1217.1 288.88 1217.5 289.64 1217.9 289.35 1218.3 287.69 1218.7 287.86 1219.1 287.89 1219.5 288.37 1219.9 286.85 1220.3 287.72 1220.7 288.47 1221.1 288.92 1221.5 288.46 1221.9 288.75 1222.3 289.60 1222.7 288.67 1223.1 289.20 1223.5 288.97 1223.9 288.36 1224.3 286.66 1224.7 288.94 1225.1 288.73 1225.5 289.06 1225.9 288.57 1226.3 286.67 1226.7 288.11 1227.1 287.76 1227.5 288.30 1227.9 287.77 1228.3 287.58 1228.7 287.80 1229.1 289.02 1229.5 287.78 1229.9 287.41 1230.3 286.93 1230.7 288.12 1231.1 287.22 1231.5 287.57 1231.9 287.96 1232.3 287.80 1232.7 286.98 1233.1 287.39 1233.5 287.13 1233.9 287.47 1234.3 287.64 1234.7 287.52 1235.1 287.18 1235.5 288.09 1235.9 288.01 1236.3 286.55 1236.7 287.29 1237.1 286.25 1237.5 284.75 1237.9 284.84 1238.3 283.95 1238.7 281.78 1239.1 279.59 1239.5 276.35 1239.9 270.97 1240.3 263.36 1240.7 253.91 1241.1 246.19 1241.3 244.98 1241.5 248.56 1241.9 265.08 1242.3 276.52 1242.7 281.65 1243.1 284.00 1243.5 285.59 1243.9 286.95 1244.3 286.94 1244.7 288.72 1245.1 287.49 1245.5 286.70 1245.9 287.16 1246.3 287.24 1246.7 287.30 1247.1 286.85 1247.5 286.86 1247.9 286.83 1248.3 287.65 1248.7 288.57 1249.1 287.33 1249.5 287.36 1249.9 288.02 1250.3 288.28 1250.7 287.86 1251.1 287.75 1251.5 287.51 1251.9 287.48 1252.3 287.73 1252.7 288.23 1253.1 288.83 1253.5 287.98 1253.9 285.81 1254.3 287.01 1254.7 285.56 1255.1 284.89 1255.5 285.77 1255.9 285.36 1256.3 284.83 1256.7 283.85 1257.1 283.37 1257.5 283.06 1257.9 282.07 1258.3 281.95 1258.7 281.88 1259.1 281.45 1259.5 281.26 1259.9 281.10 1260.0 280.82 1260.3 280.86 1260.7 281.30 1261.1 282.00 1261.5 282.21 1261.9 282.54 1262.3 283.10 1262.7 282.77 1263.1 283.21 1263.5 283.83 1263.9 284.49 1264.3 284.51 1264.7 284.77 1265.1 284.99 1265.5 285.57 1265.9 286.20 1266.3 285.66 1266.7 286.58 1267.1 286.80 1267.5 287.92 1267.9 287.89 1268.3 288.57 1268.7 288.56 1269.1 288.03 1269.5 288.01 1269.9 287.14 1270.3 288.21 1270.7 287.49 1271.1 287.20 1271.5 287.73 1271.9 287.65 1272.3 287.24 1272.7 287.61 1273.1 288.12 1273.5 286.84 1273.9 286.70 1274.3 287.72 1274.7 288.66 1275.1 288.14 1275.5 288.40 1275.9 288.93 1276.3 288.45 1276.7 287.18 1277.1 287.53 1277.5 286.32 1277.9 287.33 1278.3 286.60 1278.7 286.37 1279.1 287.20 1279.5 285.76 1279.9 285.58 1280.3 285.43 1280.7 284.49 1281.0 284.81 1281.1 284.68 1281.5 284.87 1281.9 284.64 1282.3 284.63 1282.7 285.64 1283.1 285.51 1283.5 285.22 1283.9 284.77 1284.3 284.67 1284.7 284.44 1285.1 283.56 1285.5 281.71 1285.9 280.37 1286.3 277.97 1286.7 274.90 1287.1 270.51 1287.5 263.66 1287.9 253.39 1288.3 237.82 1288.7 216.97 1289.1 193.69 1289.5 178.98 1289.6 178.25 1289.9 195.94 1290.3 236.29 1290.7 261.95 1291.1 274.35 1291.5 280.15 1291.9 283.13 1292.3 284.77 1292.7 286.05 1293.1 286.69 1293.5 287.81 1293.9 287.04 1294.3 287.80 1294.7 288.45 1295.1 287.97 1295.5 289.32 1295.9 288.56 1296.3 288.67 1296.7 289.14 1297.1 288.99 1297.5 288.26 1297.9 287.96 1298.3 287.65 1298.7 289.63 1299.1 288.87 1299.5 288.97 1299.9 289.78 1300.3 288.63 1300.7 288.18 1301.1 288.40 1301.5 288.22 1301.9 288.65 1302.3 288.78 1302.7 289.72 1303.1 289.29 1303.5 290.01 1303.9 289.71 1304.3 289.48 1304.7 289.59 1305.1 289.85 1305.5 290.56 1305.9 289.38 1306.3 288.47 1306.7 289.23 1307.1 288.65 1307.5 289.95 1307.9 288.68 1308.3 289.84 1308.7 289.94 1309.1 289.80 1309.5 289.27 1309.9 288.19 1310.3 287.07 1310.7 288.29 1311.1 289.58 1311.5 289.60 1311.9 288.41 1312.3 289.27 1312.7 288.95 1313.1 288.83 1313.5 290.38 1313.9 289.91 1314.3 289.53 1314.7 289.30 1315.1 289.77 1315.5 289.75 1315.9 289.74 1316.3 290.32 1316.7 290.40 1317.1 290.13 1317.5 289.74 1317.9 290.51 1318.3 289.90 1318.7 289.29 1319.1 291.16 1319.5 291.20 1319.9 291.04 1320.3 290.73 1320.7 290.56 1321.1 289.49 1321.5 290.22 1321.9 290.31 1322.3 289.49 1322.7 289.70 1323.1 288.90 1323.5 289.17 1323.9 287.95 1324.3 289.16 1324.7 289.27 1325.1 288.68 1325.5 289.21 1325.9 289.51 1326.3 289.16 1326.7 289.90 1327.1 289.21 1327.5 290.02 1327.9 289.76 1328.3 288.59 1328.7 289.84 1329.1 288.09 1329.5 289.33 1329.9 288.93 1330.3 289.54 1330.7 287.99 1331.1 288.49 1331.5 288.90 1331.9 289.56 1332.3 289.73 1332.7 289.58 1333.1 289.37 1333.5 288.93 1333.9 288.74 1334.3 288.97 1334.7 289.58 1335.1 289.32 1335.5 288.58 1335.9 289.45 1336.3 287.88 1336.7 289.67 1337.1 288.94 1337.5 289.49 1337.9 289.08 1338.3 289.26 1338.7 289.45 1339.1 290.05 1339.5 289.48 1339.9 289.88 1340.3 289.69 1340.7 289.55 1341.1 289.88 1341.5 289.82 1341.9 288.80 1342.3 289.59 1342.7 289.60 1343.1 289.05 1343.5 289.49 1343.9 288.76 1344.3 289.74 1344.7 288.98 1345.1 289.36 1345.5 290.05 1345.9 290.35 1346.3 289.33 1346.7 289.16 1347.1 290.70 1347.5 287.99 1347.9 290.22 1348.3 290.20 1348.7 289.25 1349.1 290.06 1349.5 289.55 1349.9 289.33 1350.3 287.75 1350.7 288.56 1351.1 288.63 1351.5 288.72 1351.9 288.65 1352.3 288.39 1352.7 286.76 1353.1 288.32 1353.5 288.11 1353.9 288.54 1354.3 288.91 1354.7 288.98 1355.1 289.45 1355.5 290.46 1355.9 289.49 1356.3 290.93 1356.7 289.89 1357.1 289.41 1357.5 289.13 1357.9 290.36 1358.3 288.79 1358.7 290.36 1359.1 290.22 1359.5 289.51 1359.9 289.18 1360.3 289.79 1360.7 289.62 1361.1 289.58 1361.5 289.19 1361.9 289.51 1362.3 290.15 1362.7 289.24 1363.1 290.48 1363.5 290.06 1363.9 288.63 1364.3 288.72 1364.7 289.16 1365.1 288.39 1365.5 290.30 1365.9 290.24 1366.3 289.07 1366.7 289.70 1367.1 290.85 1367.5 290.00 1367.9 289.38 1368.3 288.54 1368.7 288.99 1369.1 290.52 1369.5 290.25 1369.9 289.17 1370.3 290.38 1370.7 289.30 1371.1 289.27 1371.5 289.17 1371.9 289.16 1372.3 290.49 1372.7 289.18 1373.1 289.19 1373.5 289.89 1373.9 290.10 1374.3 288.59 1374.7 290.62 1375.1 290.60 1375.5 289.46 1375.9 291.34 1376.3 289.48 1376.7 290.41 1377.1 288.80 1377.5 287.74 1377.9 289.20 1378.3 288.90 1378.7 288.54 1379.1 288.76 1379.5 289.17 1379.9 289.02 1380.3 288.43 1380.7 289.18 1381.1 288.88 1381.5 288.64 1381.9 288.63 1382.3 288.55 1382.7 288.01 1383.0 288.38 1383.1 287.81 1383.5 289.03 1383.9 287.99 1384.3 288.19 1384.7 288.56 1385.1 289.28 1385.5 288.70 1385.9 288.32 1386.3 289.62 1386.7 288.77 1387.1 288.87 1387.5 290.41 1387.9 288.62 1388.3 289.53 1388.7 289.13 1389.1 287.96 1389.5 288.28 1389.9 289.10 1390.3 287.94 1390.7 288.85 1391.1 289.74 1391.5 289.38 1391.9 289.95 1392.3 289.43 1392.7 289.14 1393.1 289.18 1393.5 288.89 1393.9 289.55 1394.3 288.99 1394.7 290.02 1395.1 288.99 1395.5 288.74 1395.9 289.77 1396.3 288.49 1396.7 288.26 1397.1 289.12 1397.5 288.28 1397.9 289.16 1398.3 289.89 1398.7 289.75 1399.1 289.03 1399.5 289.49 1399.9 290.10 1400.3 290.62 1400.7 289.92 1401.1 290.31 1401.5 291.29 1401.9 290.87 1402.3 290.80 1402.7 290.25 1403.1 289.23 1403.5 289.90 1403.9 289.88 1404.3 289.38 1404.7 289.40 1405.1 289.86 1405.5 289.71 1405.9 291.46 1406.3 289.50 1406.7 290.15 1407.1 291.34 1407.5 289.94 1407.9 289.99 1408.3 288.42 1408.7 289.99 1409.1 289.50 1409.5 289.78 1409.9 289.49 1410.3 290.12 1410.7 289.91 1411.1 290.58 1411.5 289.82 1411.9 289.82 1412.3 288.19 1412.7 288.55 1413.1 286.77 1413.5 287.90 1413.9 288.19 1414.3 287.64 1414.7 288.69 1415.1 286.97 1415.5 287.20 1415.9 287.10 1416.0 286.98 1416.3 286.92 1416.7 286.70 1417.1 287.25 1417.5 288.98 1417.9 288.39 1418.3 289.33 1418.7 288.19 1419.1 288.84 1419.5 289.20 1419.9 289.10 1420.3 288.55 1420.7 288.66 1421.1 288.55 1421.5 288.82 1421.9 288.65 1422.3 287.50 1422.7 287.20 1423.1 288.89 1423.5 289.43 1423.9 289.95 1424.3 290.16 1424.7 289.33 1425.1 290.63 1425.5 289.26 1425.9 287.87 1426.3 289.71 1426.7 289.24 1427.1 289.18 1427.5 287.91 1427.9 288.81 1428.3 289.03 1428.7 288.70 1429.1 289.14 1429.5 289.66 1429.9 290.19 1430.3 290.18 1430.7 289.71 1431.1 291.05 1431.5 290.31 1431.9 290.54 1432.3 289.79 1432.7 288.97 1433.1 288.25 1433.5 289.47 1433.9 288.83 1434.3 289.20 1434.7 289.49 1435.1 288.12 1435.5 288.29 1435.9 289.76 1436.3 289.48 1436.7 289.15 1437.1 289.32 1437.5 288.40 1437.9 289.07 1438.3 288.54 1438.7 289.06 1439.1 289.11 1439.5 288.47 1439.9 288.74 1440.3 288.28 1440.7 287.91 1441.1 287.51 1441.5 286.34 1441.9 285.43 1442.3 284.49 1442.7 282.63 1443.1 280.13 1443.5 276.30 1443.9 270.49 1444.3 262.14 1444.7 251.73 1445.1 242.00 1445.4 239.26 1445.5 240.25 1445.9 256.97 1446.3 272.61 1446.7 280.99 1447.1 285.02 1447.5 286.10 1447.9 287.81 1448.3 288.40 1448.7 289.37 1449.1 288.84 1449.5 288.57 1449.9 288.84 1450.3 289.33 1450.7 289.38 1451.1 289.27 1451.5 288.80 1451.9 289.53 1452.3 288.81 1452.7 288.74 1453.1 289.08 1453.5 288.80 1453.9 289.98 1454.3 288.53 1454.7 289.84 1455.1 288.96 1455.5 288.94 1455.9 289.54 1456.3 290.11 1456.7 289.77 1457.1 289.16 1457.5 290.76 1457.9 289.16 1458.3 289.85 1458.7 290.47 1459.1 290.03 1459.5 290.51 1459.9 290.66 1460.3 290.12 1460.7 290.57 1461.1 289.27 1461.5 289.14 1461.9 289.55 1462.3 288.92 1462.7 289.60 1463.1 289.59 1463.5 289.05 1463.9 290.21 1464.3 290.71 1464.7 288.82 1465.1 290.53 1465.5 290.78 1465.9 290.61 1466.3 289.77 1466.7 289.39 1467.1 290.37 1467.5 291.02 1467.9 289.81 1468.3 289.79 1468.7 290.01 1469.1 288.37 1469.5 289.36 1469.9 289.91 1470.3 288.93 1470.7 289.57 1471.1 289.19 1471.5 290.13 1471.9 290.32 1472.3 290.17 1472.7 289.67 1473.1 290.16 1473.5 289.79 1473.9 289.23 1474.3 291.04 1474.7 289.73 1475.1 290.33 1475.5 291.70 1475.9 290.74 1476.3 289.67 1476.7 290.45 1477.1 290.00 1477.5 290.04 1477.9 289.37 1478.3 289.99 1478.7 288.86 1479.1 290.05 1479.5 290.21 1479.9 290.21 1480.3 291.24 1480.7 289.05 1481.1 289.23 1481.5 289.32 1481.9 289.77 1482.3 290.82 1482.7 290.22 1483.1 289.82 1483.5 289.14 1483.9 289.63 1484.3 289.57 1484.7 289.71 1485.1 288.97 1485.5 289.83 1485.9 290.32 1486.3 290.33 1486.7 288.98 1487.1 290.30 1487.5 290.47 1487.9 289.84 1488.3 288.97 1488.7 288.87 1489.1 289.77 1489.5 289.25 1489.9 289.23 1490.3 290.55 1490.7 290.63 1491.1 290.15 1491.5 290.74 1491.9 290.17 1492.3 288.83 1492.7 290.37 1493.1 290.23 1493.5 290.14 1493.9 290.87 1494.3 290.28 1494.7 291.36 1495.1 290.85 1495.5 290.55 1495.9 290.64 1496.3 290.66 1496.7 289.38 1497.1 290.00 1497.5 289.96 1497.9 289.94 1498.3 289.43 1498.7 289.56 1499.1 290.63 1499.5 289.58 1499.9 290.77 1500.3 289.26 1500.7 289.44 1501.1 288.76 1501.5 289.65 1501.9 289.90 1502.3 290.64 1502.7 291.68 1503.1 291.67 1503.5 289.40 1503.9 289.91 1504.3 290.01 1504.7 289.90 1505.1 290.37 1505.5 291.43 1505.9 290.10 1506.3 290.59 1506.7 290.53 1507.1 288.84 1507.5 290.87 1507.9 291.36 1508.3 290.56 1508.7 291.61 1509.1 290.90 1509.5 291.23 1509.9 290.64 1510.3 290.27 1510.7 290.48 1511.1 290.21 1511.5 290.16 1511.9 290.06 1512.3 289.49 1512.7 289.33 1513.1 290.76 1513.5 288.55 1513.9 289.44 1514.3 289.30 1514.7 289.07 1515.1 290.48 1515.5 289.40 1515.9 290.93 1516.3 290.11 1516.7 290.56 1517.1 290.00 1517.5 291.25 1517.9 290.87 1518.3 290.31 1518.7 290.38 1519.1 291.46 1519.5 289.89 1519.9 291.62 1520.3 290.25 1520.7 290.52 1521.1 289.77 1521.5 290.39 1521.9 290.14 1522.3 290.62 1522.7 291.14 1523.1 290.67 1523.5 290.02 1523.9 289.69 1524.3 290.13 1524.7 289.67 1525.1 289.82 1525.5 291.56 1525.9 290.19 1526.3 289.25 1526.7 290.27 1527.1 290.75 1527.5 289.47 1527.9 289.76 1528.3 289.24 1528.7 288.87 1529.1 290.44 1529.5 291.99 1529.9 289.91 1530.3 289.28 1530.7 291.06 1531.1 291.14 1531.5 290.41 1531.9 290.98 1532.3 290.16 1532.7 290.77 1533.1 291.12 1533.5 290.67 1533.9 291.03 1534.3 290.65 1534.7 290.70 1535.1 290.45 1535.5 289.00 1535.9 289.85 1536.3 288.68 1536.7 289.33 1537.1 288.62 1537.5 290.27 1537.9 289.87 1538.3 289.73 1538.7 290.46 1539.1 289.91 1539.5 289.02 1539.9 287.19 1540.3 287.09 1540.7 284.70 1541.1 282.58 1541.5 280.16 1541.9 277.99 1542.3 277.14 1542.3 277.23 1542.7 278.07 1543.1 280.10 1543.5 282.81 1543.9 285.20 1544.3 287.22 1544.7 287.48 1545.1 288.04 1545.5 288.93 1545.9 289.22 1546.3 289.42 1546.7 289.44 1547.1 289.60 1547.5 289.67 1547.9 289.65 1548.3 290.57 1548.7 290.10 1549.1 289.39 1549.5 290.03 1549.9 290.64 1550.3 290.21 1550.7 288.30 1551.1 289.04 1551.5 290.11 1551.9 290.14 1552.3 290.29 1552.7 290.14 1553.1 290.43 1553.5 289.87 1553.9 291.11 1554.3 289.60 1554.7 290.01 1555.1 291.07 1555.5 290.56 1555.9 289.72 1556.3 289.74 1556.7 289.81 1557.1 289.71 1557.5 290.09 1557.9 291.05 1558.3 289.95 1558.7 290.53 1559.1 290.45 1559.5 290.50 1559.9 290.19 1560.3 290.54 1560.7 289.72 1561.1 289.17 1561.5 288.80 1561.9 287.80 1562.3 289.74 1562.7 289.96 1563.1 289.75 1563.5 289.76 1563.9 289.97 1564.3 289.31 1564.7 290.21 1565.1 290.52 1565.5 290.88 1565.9 290.83 1566.3 289.57 1566.7 291.55 1567.1 290.91 1567.5 291.76 1567.9 291.61 1568.3 290.91 1568.7 289.54 1569.1 290.58 1569.5 288.67 1569.9 287.65 1570.3 287.46 1570.7 285.60 1571.1 284.80 1571.5 282.10 1571.9 279.80 1572.3 278.34 1572.5 278.04 1572.7 278.11 1573.1 279.64 1573.5 282.05 1573.9 284.20 1574.3 286.34 1574.7 287.21 1575.1 287.97 1575.5 288.67 1575.9 289.28 1576.3 289.30 1576.7 289.12 1577.1 288.85 1577.5 291.24 1577.9 289.75 1578.3 290.06 1578.7 289.97 1579.1 290.62 1579.5 289.74 1579.9 290.50 1580.3 290.38 1580.7 289.93 1581.1 291.34 1581.5 290.54 1581.9 290.92 1582.3 291.39 1582.7 290.51 1583.1 289.66 1583.5 289.94 1583.9 290.16 1584.3 290.46 1584.7 289.01 1585.1 289.76 1585.5 290.87 1585.9 290.70 1586.3 290.51 1586.7 290.98 1587.1 290.30 1587.5 290.48 1587.9 290.07 1588.3 290.35 1588.7 290.21 1589.1 290.17 1589.5 289.41 1589.9 290.95 1590.3 290.74 1590.7 290.50 1591.1 290.93 1591.5 290.81 1591.9 291.36 1592.3 290.64 1592.7 290.32 1593.1 289.57 1593.5 289.97 1593.9 289.74 1594.3 291.21 1594.7 290.45 1595.1 289.92 1595.5 289.58 1595.9 290.93 1596.3 289.61 1596.7 290.65 1597.1 290.72" stroke="#ED7D31" stroke-width="3.4" fill="none" stroke-linejoin="round" stroke-linecap="round"/>
<path d="M984.7 402.77 985.1 402.28 985.5 402.63 985.9 402.33 986.3 403.08 986.7 403.49 987.1 402.71 987.5 402.26 987.9 403.90 988.3 402.90 988.7 402.54 989.1 402.53 989.5 402.57 989.9 402.53 990.3 402.82 990.7 402.16 991.1 402.32 991.5 402.55 991.9 402.73 992.3 402.64 992.7 402.93 993.1 402.03 993.5 402.64 993.9 402.59 994.3 402.85 994.7 402.59 995.1 403.60 995.5 402.39 995.9 402.54 996.3 402.18 996.7 403.61 997.1 402.59 997.5 402.59 997.9 402.62 998.3 402.97 998.7 402.70 999.1 403.73 999.5 402.92 999.9 402.94 1000.3 403.01 1000.7 403.82 1001.1 403.23 1001.5 403.45 1001.9 403.01 1002.3 402.62 1002.7 402.02 1003.1 402.62 1003.5 402.29 1003.9 402.50 1004.3 401.93 1004.7 402.79 1005.1 403.05 1005.5 402.54 1005.9 403.67 1006.3 403.85 1006.7 403.66 1007.1 403.19 1007.5 403.78 1007.9 402.36 1008.3 403.65 1008.7 401.90 1009.1 402.86 1009.5 402.71 1009.9 402.96 1010.3 402.62 1010.7 402.96 1011.1 402.49 1011.5 402.54 1011.9 402.58 1012.3 403.14 1012.7 402.94 1013.1 402.20 1013.5 403.19 1013.9 402.13 1014.3 402.47 1014.7 402.27 1015.1 402.45 1015.5 403.45 1015.9 402.71 1016.3 402.17 1016.7 402.51 1017.1 402.44 1017.5 402.12 1017.9 403.41 1018.3 403.72 1018.7 402.47 1019.1 403.89 1019.5 403.84 1019.9 402.45 1020.3 403.12 1020.7 402.99 1021.1 403.21 1021.5 401.51 1021.9 403.02 1022.3 402.74 1022.7 403.38 1023.1 403.68 1023.5 402.35 1023.9 403.33 1024.3 403.16 1024.7 402.73 1025.1 402.80 1025.5 402.56 1025.9 402.02 1026.3 402.68 1026.7 402.43 1027.1 403.12 1027.5 402.84 1027.9 402.76 1028.3 403.13 1028.7 402.15 1029.1 402.70 1029.5 402.15 1029.9 403.23 1030.3 403.49 1030.7 402.27 1031.1 401.83 1031.5 403.01 1031.9 402.74 1032.3 402.41 1032.7 403.90 1033.1 402.80 1033.5 402.51 1033.9 402.80 1034.3 403.00 1034.7 403.70 1035.1 403.40 1035.5 402.74 1035.9 402.84 1036.3 403.81 1036.7 402.14 1037.1 402.90 1037.5 403.48 1037.9 403.39 1038.3 403.34 1038.7 403.04 1039.1 403.20 1039.5 403.33 1039.9 402.96 1040.3 403.26 1040.7 402.83 1041.1 403.52 1041.5 403.05 1041.9 403.54 1042.3 403.44 1042.7 404.54 1043.1 404.11 1043.5 403.89 1043.9 402.90 1044.3 402.94 1044.7 401.52 1045.1 402.73 1045.5 402.82 1045.9 402.41 1046.3 403.00 1046.7 402.88 1047.1 403.61 1047.5 402.98 1047.9 402.31 1048.3 402.16 1048.7 403.52 1049.1 404.05 1049.5 404.19 1049.9 403.59 1050.3 403.19 1050.7 403.02 1051.1 403.22 1051.5 403.07 1051.9 403.78 1052.3 403.68 1052.7 404.56 1053.1 403.68 1053.5 403.91 1053.9 403.90 1054.3 403.75 1054.7 402.89 1055.1 402.19 1055.5 402.46 1055.9 403.23 1056.3 403.13 1056.7 403.06 1057.1 403.26 1057.5 403.29 1057.9 402.06 1058.3 403.64 1058.7 403.83 1059.1 403.09 1059.5 402.85 1059.9 403.40 1060.3 402.67 1060.7 403.17 1061.1 402.79 1061.5 402.84 1061.9 402.35 1062.3 403.40 1062.7 402.30 1063.1 402.70 1063.5 402.57 1063.9 403.71 1064.3 403.50 1064.7 402.33 1065.1 402.93 1065.5 403.35 1065.9 403.10 1066.3 403.51 1066.7 402.87 1067.1 402.51 1067.5 402.97 1067.9 403.17 1068.3 403.18 1068.7 403.72 1069.1 403.45 1069.5 403.26 1069.9 404.02 1070.3 402.62 1070.7 403.00 1071.1 402.66 1071.5 402.92 1071.9 402.92 1072.3 402.87 1072.7 403.55 1073.1 403.39 1073.5 403.48 1073.9 403.08 1074.3 403.28 1074.7 403.02 1075.1 403.29 1075.5 403.02 1075.9 403.28 1076.3 402.68 1076.7 403.33 1077.1 403.40 1077.5 403.76 1077.9 403.77 1078.3 403.18 1078.7 402.49 1079.1 403.27 1079.5 403.56 1079.9 403.39 1080.3 402.51 1080.7 402.28 1081.1 402.66 1081.5 402.82 1081.9 404.08 1082.3 403.96 1082.7 404.90 1083.1 404.53 1083.5 404.04 1083.9 403.25 1084.3 403.86 1084.7 403.90 1085.1 402.84 1085.5 403.22 1085.9 403.33 1086.3 404.31 1086.7 403.35 1087.1 402.92 1087.5 403.43 1087.9 403.40 1088.3 402.67 1088.7 404.10 1089.1 403.15 1089.5 403.77 1089.9 403.83 1090.3 403.03 1090.7 403.53 1091.1 403.33 1091.5 403.34 1091.9 403.89 1092.3 403.68 1092.7 402.62 1093.1 403.57 1093.5 402.83 1093.9 403.15 1094.3 403.40 1094.7 403.54 1095.1 403.91 1095.5 403.50 1095.9 403.35 1096.3 404.03 1096.7 403.40 1097.1 402.99 1097.5 403.15 1097.9 402.84 1098.3 403.39 1098.7 402.69 1099.1 404.13 1099.5 403.89 1099.9 402.38 1100.3 402.50 1100.7 403.19 1101.1 402.64 1101.5 402.03 1101.9 403.33 1102.3 402.68 1102.7 403.40 1103.1 403.46 1103.5 403.61 1103.9 402.48 1104.3 403.38 1104.7 401.81 1105.1 402.54 1105.5 402.14 1105.9 401.51 1106.3 400.51 1106.7 400.92 1107.1 400.00 1107.5 398.76 1107.9 398.11 1108.3 398.36 1108.5 398.31 1108.7 398.71 1109.1 398.76 1109.5 399.06 1109.9 399.23 1110.3 399.87 1110.7 400.04 1111.1 400.22 1111.5 400.57 1111.9 402.25 1112.3 402.44 1112.7 402.23 1113.1 402.84 1113.5 403.06 1113.9 403.20 1114.3 402.07 1114.7 402.76 1115.1 403.17 1115.5 403.09 1115.9 403.59 1116.3 404.21 1116.7 402.94 1117.1 403.04 1117.5 404.04 1117.9 404.39 1118.3 403.85 1118.7 403.68 1119.1 403.30 1119.5 404.15 1119.9 404.14 1120.3 403.32 1120.7 403.67 1121.1 403.83 1121.5 404.71 1121.9 404.39 1122.3 405.19 1122.7 405.16 1123.1 404.49 1123.5 404.53 1123.9 404.21 1124.3 404.44 1124.7 403.61 1125.1 404.15 1125.5 404.58 1125.9 404.16 1126.3 403.55 1126.7 403.90 1127.1 404.73 1127.5 403.77 1127.9 403.64 1128.3 404.66 1128.7 403.92 1129.1 403.81 1129.5 404.13 1129.9 404.87 1130.3 404.61 1130.7 405.84 1131.1 404.46 1131.5 403.62 1131.9 404.05 1132.3 403.60 1132.7 404.67 1133.1 404.02 1133.5 405.36 1133.9 404.76 1134.3 405.24 1134.7 404.06 1135.1 404.43 1135.5 402.76 1135.9 403.53 1136.3 403.53 1136.7 404.45 1137.1 403.87 1137.5 404.31 1137.9 403.83 1138.3 403.62 1138.7 404.32 1139.1 404.76 1139.5 404.21 1139.9 404.74 1140.3 403.59 1140.7 403.76 1141.1 403.78 1141.5 403.94 1141.9 403.93 1142.3 404.58 1142.7 403.97 1143.1 403.70 1143.5 404.84 1143.9 404.43 1144.3 403.82 1144.7 403.73 1145.1 403.85 1145.5 404.82 1145.9 404.21 1146.3 405.65 1146.7 403.92 1147.1 404.38 1147.5 404.73 1147.9 404.05 1148.3 404.97 1148.7 404.51 1149.1 404.82 1149.5 403.84 1149.9 404.58 1150.3 404.59 1150.7 404.20 1151.1 405.07 1151.5 404.49 1151.9 403.38 1152.3 404.43 1152.7 405.32 1153.1 404.16 1153.5 404.71 1153.9 404.08 1154.3 404.59 1154.7 403.23 1155.1 403.48 1155.5 404.18 1155.9 403.89 1156.3 403.32 1156.7 404.49 1157.1 404.60 1157.5 404.27 1157.9 403.83 1158.3 405.00 1158.7 404.47 1159.1 404.95 1159.5 404.73 1159.9 404.09 1160.3 403.92 1160.7 404.28 1161.1 403.80 1161.5 403.12 1161.9 404.27 1162.3 403.83 1162.7 403.50 1163.1 403.87 1163.5 403.88 1163.9 403.94 1164.3 404.94 1164.7 403.56 1165.1 403.48 1165.5 403.74 1165.9 403.37 1166.3 404.42 1166.7 404.13 1167.1 403.76 1167.5 404.55 1167.9 403.52 1168.3 405.13 1168.7 404.56 1169.1 404.84 1169.5 404.65 1169.9 404.75 1170.3 404.03 1170.7 404.68 1171.1 404.53 1171.5 404.45 1171.9 403.63 1172.3 405.02 1172.7 404.28 1173.1 404.07 1173.5 403.34 1173.9 404.83 1174.3 404.39 1174.7 405.18 1175.1 404.54 1175.5 404.16 1175.9 404.40 1176.3 403.78 1176.7 403.70 1177.1 404.36 1177.5 404.92 1177.9 405.21 1178.3 404.67 1178.7 404.77 1179.1 405.00 1179.5 404.78 1179.9 404.70 1180.3 404.94 1180.7 404.44 1181.1 404.42 1181.5 405.18 1181.9 404.95 1182.3 404.84 1182.7 405.12 1183.1 405.04 1183.5 405.15 1183.9 404.23 1184.3 404.03 1184.7 404.15 1185.1 405.16 1185.5 405.42 1185.9 405.58 1186.3 405.40 1186.7 405.30 1187.1 405.17 1187.5 405.53 1187.9 405.11 1188.3 404.39 1188.7 405.12 1189.1 404.63 1189.5 404.40 1189.9 404.08 1190.3 404.02 1190.7 404.19 1191.1 404.71 1191.5 404.05 1191.9 404.36 1192.3 404.47 1192.7 405.57 1193.1 404.44 1193.5 404.62 1193.9 404.85 1194.3 405.21 1194.7 404.64 1195.1 405.83 1195.5 405.23 1195.9 403.69 1196.3 404.79 1196.7 404.79 1197.1 403.59 1197.5 404.15 1197.9 404.47 1198.3 403.91 1198.7 404.32 1199.1 404.84 1199.5 404.27 1199.9 404.24 1200.3 403.54 1200.7 404.44 1201.1 403.87 1201.5 404.95 1201.9 405.37 1202.3 405.29 1202.7 404.10 1203.1 404.70 1203.5 404.42 1203.9 404.65 1204.3 404.13 1204.7 404.01 1205.1 403.99 1205.5 403.46 1205.9 403.98 1206.3 403.58 1206.7 403.34 1207.1 403.13 1207.5 402.87 1207.9 403.45 1208.0 403.16 1208.3 403.09 1208.7 404.06 1209.1 403.63 1209.5 403.43 1209.9 403.73 1210.3 404.40 1210.7 403.81 1211.1 404.08 1211.5 405.09 1211.9 405.19 1212.3 405.26 1212.7 403.88 1213.1 404.29 1213.5 403.91 1213.9 404.48 1214.3 403.71 1214.7 404.45 1215.1 404.95 1215.5 404.41 1215.9 403.08 1216.3 404.50 1216.7 404.45 1217.1 404.10 1217.5 404.64 1217.9 404.46 1218.3 405.33 1218.7 404.46 1219.1 403.99 1219.5 403.73 1219.9 404.98 1220.3 404.65 1220.7 404.76 1221.1 404.08 1221.5 405.07 1221.9 405.36 1222.3 405.19 1222.7 405.53 1223.1 405.55 1223.5 405.22 1223.9 404.87 1224.3 404.76 1224.7 403.82 1225.1 404.31 1225.5 405.09 1225.9 405.49 1226.3 404.68 1226.7 404.96 1227.1 404.22 1227.5 403.58 1227.9 404.02 1228.3 403.92 1228.7 403.64 1229.1 404.17 1229.5 404.51 1229.9 404.39 1230.3 404.98 1230.7 404.08 1231.1 404.76 1231.5 404.21 1231.9 404.62 1232.3 403.87 1232.7 404.77 1233.1 404.45 1233.5 405.13 1233.9 403.34 1234.3 403.19 1234.7 404.26 1235.1 403.94 1235.5 402.85 1235.9 403.42 1236.3 403.25 1236.7 403.08 1237.1 402.16 1237.5 400.86 1237.9 400.20 1238.3 400.12 1238.7 398.08 1239.1 395.98 1239.5 392.50 1239.9 387.26 1240.3 379.79 1240.7 370.45 1241.1 361.93 1241.4 359.39 1241.5 360.40 1241.9 375.38 1242.3 389.34 1242.7 396.68 1243.1 400.75 1243.5 402.37 1243.9 402.77 1244.3 402.65 1244.7 404.06 1245.1 404.16 1245.5 403.45 1245.9 404.60 1246.3 403.77 1246.7 403.75 1247.1 403.94 1247.5 404.26 1247.9 404.01 1248.3 404.76 1248.7 404.29 1249.1 404.31 1249.5 403.84 1249.9 403.72 1250.3 403.14 1250.7 403.40 1251.1 403.92 1251.5 403.90 1251.9 403.00 1252.3 403.00 1252.7 402.63 1253.1 402.77 1253.5 402.50 1253.9 402.17 1254.3 402.65 1254.7 402.47 1255.1 401.92 1255.5 401.37 1255.9 401.28 1256.3 400.75 1256.7 401.26 1257.1 401.42 1257.5 400.08 1257.9 400.89 1258.3 400.77 1258.7 400.69 1259.0 400.52 1259.1 400.25 1259.5 400.52 1259.9 400.57 1260.3 400.74 1260.7 401.05 1261.1 400.85 1261.5 402.10 1261.9 401.17 1262.3 401.53 1262.7 401.33 1263.1 402.13 1263.5 403.01 1263.9 402.65 1264.3 402.73 1264.7 402.79 1265.1 403.44 1265.5 402.85 1265.9 403.50 1266.3 403.15 1266.7 403.41 1267.1 403.88 1267.5 403.50 1267.9 404.71 1268.3 403.85 1268.7 404.68 1269.1 404.68 1269.5 405.47 1269.9 404.64 1270.3 404.80 1270.7 403.97 1271.1 404.15 1271.5 404.22 1271.9 404.77 1272.3 403.81 1272.7 404.38 1273.1 405.72 1273.5 404.14 1273.9 403.69 1274.3 404.29 1274.7 404.67 1275.1 405.15 1275.5 404.69 1275.9 404.89 1276.3 403.84 1276.7 403.74 1277.1 403.98 1277.5 403.29 1277.9 403.71 1278.3 403.54 1278.7 403.66 1279.1 402.76 1279.5 402.40 1279.9 403.47 1280.3 403.01 1280.7 403.02 1281.1 404.09 1281.5 403.53 1281.9 403.37 1282.3 402.72 1282.7 402.53 1283.1 402.21 1283.5 401.55 1283.9 401.73 1284.3 400.97 1284.7 400.27 1285.1 398.80 1285.5 397.48 1285.9 395.75 1286.3 393.22 1286.7 389.74 1287.1 384.83 1287.5 377.40 1287.9 366.24 1288.3 350.26 1288.7 329.57 1289.1 307.42 1289.5 293.65 1289.6 293.00 1289.9 309.45 1290.3 348.62 1290.7 375.33 1291.1 388.71 1291.5 395.08 1291.9 397.93 1292.3 400.18 1292.7 401.75 1293.1 402.50 1293.5 403.72 1293.9 403.66 1294.3 403.56 1294.7 404.04 1295.1 403.78 1295.5 404.64 1295.9 403.92 1296.3 403.96 1296.7 404.09 1297.1 404.82 1297.5 404.09 1297.9 403.91 1298.3 404.75 1298.7 405.00 1299.1 404.46 1299.5 405.10 1299.9 404.64 1300.3 405.21 1300.7 404.09 1301.1 404.36 1301.5 404.33 1301.9 404.08 1302.3 404.64 1302.7 404.85 1303.1 404.40 1303.5 405.64 1303.9 404.81 1304.3 404.87 1304.7 404.41 1305.1 404.65 1305.5 405.15 1305.9 404.36 1306.3 404.44 1306.7 404.44 1307.1 404.19 1307.5 405.22 1307.9 404.70 1308.3 405.64 1308.7 404.36 1309.1 404.69 1309.5 404.93 1309.9 404.33 1310.3 403.83 1310.7 404.58 1311.1 404.87 1311.5 404.07 1311.9 404.67 1312.3 403.79 1312.7 404.59 1313.1 405.16 1313.5 404.70 1313.9 404.84 1314.3 404.60 1314.7 404.64 1315.1 405.76 1315.5 405.02 1315.9 405.58 1316.3 404.91 1316.7 405.56 1317.1 405.31 1317.5 404.35 1317.9 405.30 1318.3 405.12 1318.7 405.25 1319.1 405.08 1319.5 405.37 1319.9 404.59 1320.3 404.55 1320.7 405.25 1321.1 406.14 1321.5 405.00 1321.9 405.80 1322.3 405.07 1322.7 404.38 1323.1 404.61 1323.5 404.79 1323.9 405.65 1324.3 404.75 1324.7 404.16 1325.1 404.42 1325.5 404.82 1325.9 404.24 1326.3 404.36 1326.7 405.10 1327.1 404.59 1327.5 405.27 1327.9 405.53 1328.3 405.06 1328.7 404.59 1329.1 404.41 1329.5 403.79 1329.9 405.28 1330.3 405.82 1330.7 405.04 1331.1 404.50 1331.5 405.28 1331.9 404.67 1332.3 404.50 1332.7 405.25 1333.1 405.06 1333.5 405.27 1333.9 406.18 1334.3 405.50 1334.7 405.11 1335.1 405.64 1335.5 404.17 1335.9 404.76 1336.3 404.65 1336.7 404.90 1337.1 404.59 1337.5 404.60 1337.9 404.56 1338.3 404.76 1338.7 404.53 1339.1 405.33 1339.5 404.22 1339.9 404.85 1340.3 405.24 1340.7 404.58 1341.1 403.32 1341.5 404.82 1341.9 404.12 1342.3 404.33 1342.7 404.39 1343.1 404.34 1343.5 404.49 1343.9 404.21 1344.3 404.81 1344.7 403.95 1345.1 404.65 1345.5 405.05 1345.9 406.07 1346.3 404.88 1346.7 404.78 1347.1 405.10 1347.5 404.70 1347.9 404.15 1348.3 403.66 1348.7 404.85 1349.1 403.99 1349.5 404.72 1349.9 404.85 1350.3 404.27 1350.7 405.06 1351.1 403.94 1351.5 404.81 1351.9 404.18 1352.3 404.82 1352.7 404.96 1353.1 404.76 1353.5 404.86 1353.9 404.47 1354.3 404.18 1354.7 404.15 1355.1 405.24 1355.5 404.41 1355.9 405.03 1356.3 405.04 1356.7 405.20 1357.1 404.66 1357.5 404.11 1357.9 405.15 1358.3 404.70 1358.7 403.97 1359.1 404.92 1359.5 405.44 1359.9 404.55 1360.3 405.51 1360.7 405.39 1361.1 405.17 1361.5 404.88 1361.9 404.57 1362.3 404.19 1362.7 404.72 1363.1 404.77 1363.5 405.59 1363.9 404.91 1364.3 405.41 1364.7 405.18 1365.1 403.96 1365.5 405.11 1365.9 404.29 1366.3 403.58 1366.7 404.48 1367.1 405.36 1367.5 404.72 1367.9 405.01 1368.3 405.11 1368.7 405.06 1369.1 405.61 1369.5 405.40 1369.9 405.02 1370.3 404.80 1370.7 403.46 1371.1 404.70 1371.5 404.91 1371.9 404.89 1372.3 404.55 1372.7 404.68 1373.1 405.28 1373.5 404.97 1373.9 405.18 1374.3 404.25 1374.7 405.31 1375.1 406.21 1375.5 405.81 1375.9 406.30 1376.3 406.18 1376.7 405.88 1377.1 405.15 1377.5 404.54 1377.9 404.43 1378.3 405.06 1378.7 405.05 1379.1 404.04 1379.5 404.03 1379.9 404.58 1380.3 404.92 1380.7 404.48 1381.1 404.24 1381.5 404.45 1381.9 404.67 1382.3 404.19 1382.7 404.11 1383.1 404.38 1383.5 403.93 1383.9 404.30 1384.3 403.42 1384.7 403.80 1385.0 403.61 1385.1 404.17 1385.5 404.31 1385.9 403.65 1386.3 404.19 1386.7 404.05 1387.1 403.96 1387.5 404.12 1387.9 404.62 1388.3 404.62 1388.7 404.18 1389.1 404.70 1389.5 405.48 1389.9 406.04 1390.3 405.91 1390.7 405.45 1391.1 405.07 1391.5 405.78 1391.9 405.45 1392.3 405.28 1392.7 405.30 1393.1 405.09 1393.5 405.07 1393.9 405.07 1394.3 404.61 1394.7 405.50 1395.1 405.35 1395.5 404.72 1395.9 405.15 1396.3 405.46 1396.7 404.59 1397.1 404.80 1397.5 405.06 1397.9 404.69 1398.3 405.54 1398.7 405.40 1399.1 405.56 1399.5 405.40 1399.9 405.55 1400.3 406.09 1400.7 404.84 1401.1 404.49 1401.5 404.31 1401.9 404.29 1402.3 405.02 1402.7 405.10 1403.1 405.26 1403.5 404.89 1403.9 405.46 1404.3 404.93 1404.7 404.36 1405.1 404.92 1405.5 405.07 1405.9 404.75 1406.3 405.66 1406.7 405.09 1407.1 405.09 1407.5 405.71 1407.9 406.02 1408.3 404.82 1408.7 404.87 1409.1 404.93 1409.5 404.68 1409.9 404.88 1410.3 404.74 1410.7 403.84 1411.1 405.01 1411.5 404.14 1411.9 404.48 1412.3 404.55 1412.7 405.00 1413.1 404.27 1413.5 405.10 1413.9 404.58 1414.3 406.08 1414.7 405.08 1415.1 405.13 1415.5 404.43 1415.9 404.45 1416.3 405.02 1416.7 404.35 1417.0 403.58 1417.1 403.75 1417.5 403.96 1417.9 405.07 1418.3 404.52 1418.7 404.88 1419.1 405.48 1419.5 406.17 1419.9 405.48 1420.3 404.67 1420.7 404.99 1421.1 405.88 1421.5 404.98 1421.9 403.71 1422.3 404.56 1422.7 404.39 1423.1 404.53 1423.5 404.87 1423.9 405.04 1424.3 405.02 1424.7 403.29 1425.1 404.49 1425.5 404.61 1425.9 404.46 1426.3 405.43 1426.7 404.85 1427.1 404.56 1427.5 405.97 1427.9 405.18 1428.3 405.44 1428.7 405.60 1429.1 404.40 1429.5 405.47 1429.9 404.99 1430.3 404.98 1430.7 405.05 1431.1 405.25 1431.5 404.96 1431.9 405.09 1432.3 404.93 1432.7 405.42 1433.1 404.11 1433.5 405.46 1433.9 404.29 1434.3 405.96 1434.7 405.13 1435.1 405.51 1435.5 404.57 1435.9 405.71 1436.3 405.19 1436.7 404.97 1437.1 404.93 1437.5 403.70 1437.9 403.89 1438.3 403.66 1438.7 404.35 1439.1 403.96 1439.5 404.10 1439.9 403.46 1440.3 403.33 1440.7 402.15 1441.1 401.87 1441.5 400.86 1441.9 399.57 1442.3 398.09 1442.7 396.12 1443.1 392.81 1443.5 388.01 1443.9 381.21 1444.3 372.38 1444.7 362.84 1445.1 355.58 1445.3 354.48 1445.5 357.80 1445.9 374.38 1446.3 388.34 1446.7 396.20 1447.1 399.87 1447.5 402.11 1447.9 402.80 1448.3 403.10 1448.7 405.01 1449.1 403.63 1449.5 403.48 1449.9 404.22 1450.3 404.19 1450.7 405.45 1451.1 405.15 1451.5 404.54 1451.9 406.06 1452.3 405.32 1452.7 404.62 1453.1 405.68 1453.5 405.64 1453.9 404.75 1454.3 404.57 1454.7 405.26 1455.1 404.88 1455.5 404.97 1455.9 404.67 1456.3 403.86 1456.7 403.73 1457.1 404.32 1457.5 405.29 1457.9 404.49 1458.3 405.17 1458.7 404.78 1459.1 404.99 1459.5 404.68 1459.9 405.25 1460.3 404.80 1460.7 404.81 1461.1 406.08 1461.5 405.66 1461.9 404.72 1462.3 405.99 1462.7 405.03 1463.1 405.98 1463.5 404.60 1463.9 404.77 1464.3 404.41 1464.7 404.59 1465.1 404.24 1465.5 405.73 1465.9 405.26 1466.3 405.10 1466.7 404.44 1467.1 405.93 1467.5 405.74 1467.9 405.14 1468.3 404.86 1468.7 405.79 1469.1 405.47 1469.5 404.96 1469.9 406.62 1470.3 405.60 1470.7 404.58 1471.1 404.49 1471.5 405.13 1471.9 405.34 1472.3 405.48 1472.7 405.78 1473.1 405.68 1473.5 406.83 1473.9 405.55 1474.3 405.36 1474.7 405.52 1475.1 405.12 1475.5 405.66 1475.9 405.90 1476.3 404.25 1476.7 405.08 1477.1 405.67 1477.5 405.90 1477.9 405.27 1478.3 405.84 1478.7 405.38 1479.1 405.37 1479.5 405.09 1479.9 406.10 1480.3 406.18 1480.7 406.61 1481.1 405.90 1481.5 405.65 1481.9 405.41 1482.3 406.43 1482.7 404.48 1483.1 404.86 1483.5 405.61 1483.9 404.77 1484.3 404.23 1484.7 405.90 1485.1 405.97 1485.5 406.15 1485.9 405.98 1486.3 406.10 1486.7 405.64 1487.1 406.43 1487.5 405.32 1487.9 404.80 1488.3 405.21 1488.7 404.46 1489.1 404.57 1489.5 404.99 1489.9 405.34 1490.3 405.86 1490.7 405.10 1491.1 405.22 1491.5 405.06 1491.9 405.34 1492.3 405.53 1492.7 406.17 1493.1 406.00 1493.5 406.44 1493.9 406.67 1494.3 406.10 1494.7 406.26 1495.1 405.61 1495.5 405.77 1495.9 405.95 1496.3 405.39 1496.7 406.11 1497.1 405.24 1497.5 406.25 1497.9 406.41 1498.3 406.00 1498.7 405.73 1499.1 406.26 1499.5 405.72 1499.9 405.61 1500.3 406.39 1500.7 404.89 1501.1 406.07 1501.5 405.10 1501.9 405.79 1502.3 405.12 1502.7 406.12 1503.1 405.05 1503.5 404.43 1503.9 406.75 1504.3 405.09 1504.7 405.14 1505.1 405.09 1505.5 405.08 1505.9 405.54 1506.3 405.28 1506.7 406.41 1507.1 405.45 1507.5 406.14 1507.9 406.48 1508.3 405.53 1508.7 406.22 1509.1 405.48 1509.5 405.43 1509.9 405.22 1510.3 406.25 1510.7 406.38 1511.1 405.34 1511.5 406.02 1511.9 405.21 1512.3 405.85 1512.7 405.80 1513.1 404.64 1513.5 405.74 1513.9 405.38 1514.3 404.53 1514.7 405.32 1515.1 405.31 1515.5 405.53 1515.9 405.31 1516.3 405.26 1516.7 405.44 1517.1 405.67 1517.5 405.22 1517.9 405.63 1518.3 405.94 1518.7 405.95 1519.1 406.10 1519.5 405.95 1519.9 405.53 1520.3 406.15 1520.7 406.47 1521.1 405.54 1521.5 405.65 1521.9 405.24 1522.3 405.44 1522.7 405.30 1523.1 406.56 1523.5 406.01 1523.9 404.91 1524.3 406.07 1524.7 405.52 1525.1 404.61 1525.5 405.76 1525.9 405.46 1526.3 406.08 1526.7 406.21 1527.1 405.69 1527.5 406.74 1527.9 406.03 1528.3 405.38 1528.7 404.73 1529.1 406.44 1529.5 404.86 1529.9 405.16 1530.3 405.32 1530.7 405.97 1531.1 404.87 1531.5 404.46 1531.9 405.62 1532.3 404.68 1532.7 405.35 1533.1 406.70 1533.5 405.53 1533.9 406.35 1534.3 405.78 1534.7 407.22 1535.1 405.58 1535.5 406.02 1535.9 405.54 1536.3 404.99 1536.7 405.73 1537.1 404.67 1537.5 404.20 1537.9 404.20 1538.3 404.20 1538.7 404.07 1539.1 404.18 1539.5 403.09 1539.9 402.46 1540.3 401.99 1540.7 399.78 1541.1 397.66 1541.5 395.29 1541.9 393.46 1542.3 392.66 1542.3 392.56 1542.7 393.37 1543.1 395.30 1543.5 397.61 1543.9 399.85 1544.3 401.36 1544.7 403.00 1545.1 403.82 1545.5 404.92 1545.9 405.23 1546.3 405.32 1546.7 404.82 1547.1 405.31 1547.5 405.29 1547.9 405.79 1548.3 405.44 1548.7 405.95 1549.1 405.78 1549.5 405.79 1549.9 404.91 1550.3 406.22 1550.7 406.07 1551.1 405.38 1551.5 406.49 1551.9 406.52 1552.3 406.72 1552.7 406.01 1553.1 405.99 1553.5 406.19 1553.9 406.18 1554.3 406.50 1554.7 405.28 1555.1 405.65 1555.5 404.93 1555.9 405.98 1556.3 406.56 1556.7 406.41 1557.1 406.90 1557.5 405.95 1557.9 405.35 1558.3 405.12 1558.7 405.85 1559.1 406.75 1559.5 405.69 1559.9 405.77 1560.3 406.05 1560.7 405.79 1561.1 406.15 1561.5 405.11 1561.9 405.32 1562.3 405.49 1562.7 405.61 1563.1 406.28 1563.5 405.42 1563.9 405.29 1564.3 405.11 1564.7 405.32 1565.1 405.25 1565.5 405.27 1565.9 404.85 1566.3 404.77 1566.7 403.92 1567.1 404.72 1567.5 405.23 1567.9 404.65 1568.3 405.07 1568.7 404.99 1569.1 405.32 1569.5 404.06 1569.9 402.93 1570.3 402.17 1570.7 400.72 1571.1 399.00 1571.5 396.96 1571.9 394.94 1572.3 393.62 1572.5 393.46 1572.7 393.77 1573.1 394.87 1573.5 397.09 1573.9 399.10 1574.3 401.15 1574.7 402.17 1575.1 403.92 1575.5 404.28 1575.9 405.17 1576.3 405.83 1576.7 404.64 1577.1 404.25 1577.5 405.38 1577.9 405.97 1578.3 405.18 1578.7 404.56 1579.1 405.23 1579.5 406.19 1579.9 406.45 1580.3 405.54 1580.7 404.85 1581.1 405.92 1581.5 405.13 1581.9 405.57 1582.3 405.66 1582.7 406.10 1583.1 406.61 1583.5 405.87 1583.9 406.51 1584.3 407.19 1584.7 406.75 1585.1 406.73 1585.5 406.14 1585.9 405.53 1586.3 406.26 1586.7 406.38 1587.1 406.65 1587.5 405.96 1587.9 406.04 1588.3 405.47 1588.7 406.17 1589.1 406.50 1589.5 406.05 1589.9 406.22 1590.3 406.12 1590.7 406.18 1591.1 406.30 1591.5 405.98 1591.9 405.95 1592.3 406.94 1592.7 406.01 1593.1 406.99 1593.5 406.33 1593.9 406.77 1594.3 406.15 1594.7 405.44 1595.1 405.76 1595.5 405.63 1595.9 406.67 1596.3 405.70 1596.7 405.85 1597.1 405.66" stroke="#4472C4" stroke-width="3.4" fill="none" stroke-linejoin="round" stroke-linecap="round"/>
<ellipse cx="1018.2" cy="72.4" rx="6.95" ry="6.5" fill="#000"/>
<ellipse cx="1037.1" cy="33.2" rx="6.95" ry="6.5" fill="#000"/>
<rect x="1103.10" y="134.10" width="11.2" height="11.2" fill="#000"/>
<rect x="1254.80" y="130.10" width="11.2" height="11.2" fill="#000"/>
<path d="M1245.8 102.8 L1253.40 115.30 L1245.8 127.8 L1238.20 115.30Z" fill="#000"/>
<path d="M1293.3 75.6 L1300.90 88.10 L1293.3 100.6 L1285.70 88.10Z" fill="#000"/>
<path d="M1448.3 102.8 L1455.90 115.30 L1448.3 127.8 L1440.70 115.30Z" fill="#000"/>
<path d="M1544.4 96.7 L1552.00 109.20 L1544.4 121.7 L1536.80 109.20Z" fill="#000"/>
<path d="M1575.0 95.8 L1582.60 108.30 L1575.0 120.8 L1567.40 108.30Z" fill="#000"/>
<text x="985.20" y="453.3" font-size="29.5" text-anchor="middle" textLength="14.95" lengthAdjust="spacingAndGlyphs">5</text>
<text x="1079.40" y="453.3" font-size="29.5" text-anchor="middle" textLength="29.91" lengthAdjust="spacingAndGlyphs">15</text>
<text x="1173.60" y="453.3" font-size="29.5" text-anchor="middle" textLength="29.91" lengthAdjust="spacingAndGlyphs">25</text>
<text x="1267.80" y="453.3" font-size="29.5" text-anchor="middle" textLength="29.91" lengthAdjust="spacingAndGlyphs">35</text>
<text x="1362.00" y="453.3" font-size="29.5" text-anchor="middle" textLength="29.91" lengthAdjust="spacingAndGlyphs">45</text>
<text x="1456.20" y="453.3" font-size="29.5" text-anchor="middle" textLength="29.91" lengthAdjust="spacingAndGlyphs">55</text>
<text x="1550.40" y="453.3" font-size="29.5" text-anchor="middle" textLength="29.91" lengthAdjust="spacingAndGlyphs">65</text>
<text class="b" x="1291.65" y="493" font-size="29.5" text-anchor="middle" textLength="66.39" lengthAdjust="spacingAndGlyphs">2θ (<tspan style="font-family:'Liberation Serif',serif;font-weight:bold">º</tspan>)</text>
<text class="b" transform="translate(951 206.2) rotate(-90)" font-size="33.5" text-anchor="middle" textLength="193.25" lengthAdjust="spacingAndGlyphs">Intenisty (a.u)</text>
<text x="873" y="35.6" font-size="49" textLength="40.61" lengthAdjust="spacingAndGlyphs">b)</text>
<defs><filter id="sh" x="-10%" y="-30%" width="130%" height="170%"><feDropShadow dx="1" dy="1" stdDeviation="0.8" flood-color="#000" flood-opacity="0.35"/></filter></defs>
<text filter="url(#sh)" x="1578.5" y="167" font-size="25" text-anchor="end" style="stroke-width:0.45px" textLength="79.23" lengthAdjust="spacingAndGlyphs"><tspan style="font-weight:bold;stroke-width:0.2px">90</tspan> mins</text>
<text filter="url(#sh)" x="1578.5" y="256.2" font-size="25" text-anchor="end" textLength="79.62" lengthAdjust="spacingAndGlyphs">60 mins</text>
<text filter="url(#sh)" class="b" x="1579.5" y="360.7" font-size="25.5" text-anchor="end" textLength="82.48" lengthAdjust="spacingAndGlyphs">30 mins</text>
</svg></body></html>
